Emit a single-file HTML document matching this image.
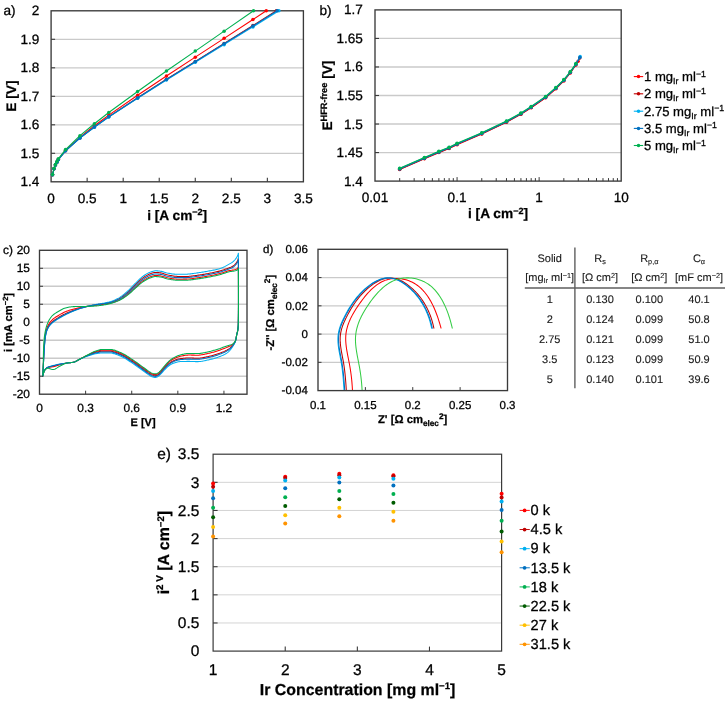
<!DOCTYPE html>
<html lang="en">
<head>
<meta charset="utf-8">
<title>Figure: polarisation curves, HFR-free, CV, Nyquist, table and i at 2 V vs Ir concentration</title>
<style>
html,body{margin:0;padding:0;background:#fff;}
body{width:725px;height:705px;overflow:hidden;font-family:"Liberation Sans",sans-serif;}
svg{display:block;}
</style>
</head>
<body>
<svg width="725" height="705" viewBox="0 0 725 705" font-family='"Liberation Sans", sans-serif' text-rendering="geometricPrecision">
<rect width="725" height="705" fill="#fff"/>
<line x1="51.1" y1="153.3" x2="303.4" y2="153.3" stroke="#cacaca" stroke-width="1.35"/>
<line x1="51.1" y1="124.8" x2="303.4" y2="124.8" stroke="#cacaca" stroke-width="1.35"/>
<line x1="51.1" y1="96.3" x2="303.4" y2="96.3" stroke="#cacaca" stroke-width="1.35"/>
<line x1="51.1" y1="67.8" x2="303.4" y2="67.8" stroke="#cacaca" stroke-width="1.35"/>
<line x1="51.1" y1="39.3" x2="303.4" y2="39.3" stroke="#cacaca" stroke-width="1.35"/>
<rect x="51.1" y="10.8" width="252.3" height="171" fill="none" stroke="#3a3a3a" stroke-width="1.35"/>
<line x1="51.1" y1="153.3" x2="55.1" y2="153.3" stroke="#3a3a3a" stroke-width="1.1"/>
<line x1="51.1" y1="124.8" x2="55.1" y2="124.8" stroke="#3a3a3a" stroke-width="1.1"/>
<line x1="51.1" y1="96.3" x2="55.1" y2="96.3" stroke="#3a3a3a" stroke-width="1.1"/>
<line x1="51.1" y1="67.8" x2="55.1" y2="67.8" stroke="#3a3a3a" stroke-width="1.1"/>
<line x1="51.1" y1="39.3" x2="55.1" y2="39.3" stroke="#3a3a3a" stroke-width="1.1"/>
<line x1="87.14" y1="181.8" x2="87.14" y2="177.8" stroke="#3a3a3a" stroke-width="1.1"/>
<line x1="123.19" y1="181.8" x2="123.19" y2="177.8" stroke="#3a3a3a" stroke-width="1.1"/>
<line x1="159.23" y1="181.8" x2="159.23" y2="177.8" stroke="#3a3a3a" stroke-width="1.1"/>
<line x1="195.27" y1="181.8" x2="195.27" y2="177.8" stroke="#3a3a3a" stroke-width="1.1"/>
<line x1="231.31" y1="181.8" x2="231.31" y2="177.8" stroke="#3a3a3a" stroke-width="1.1"/>
<line x1="267.36" y1="181.8" x2="267.36" y2="177.8" stroke="#3a3a3a" stroke-width="1.1"/>
<path d="M52.54 174.85 L53.98 168.77 L55.43 164.93 L56.87 162.13 L58.31 159.48 L65.52 150.44 L79.93 137.16 L94.35 125.78 L108.77 115.08 L137.6 95.26 L166.44 75.96 L195.27 57.16 L224.11 38.37 L252.94 19.55 L266.28 10.8" fill="none" stroke="#FF0000" stroke-width="1.1" stroke-linejoin="round" stroke-linecap="round"/>
<circle cx="52.54" cy="174.85" r="1.75" fill="#FF0000"/>
<circle cx="53.98" cy="168.77" r="1.75" fill="#FF0000"/>
<circle cx="55.43" cy="164.93" r="1.75" fill="#FF0000"/>
<circle cx="56.87" cy="162.13" r="1.75" fill="#FF0000"/>
<circle cx="58.31" cy="159.48" r="1.75" fill="#FF0000"/>
<circle cx="65.52" cy="150.44" r="1.75" fill="#FF0000"/>
<circle cx="79.93" cy="137.16" r="1.75" fill="#FF0000"/>
<circle cx="94.35" cy="125.78" r="1.75" fill="#FF0000"/>
<circle cx="108.77" cy="115.08" r="1.75" fill="#FF0000"/>
<circle cx="137.6" cy="95.26" r="1.75" fill="#FF0000"/>
<circle cx="166.44" cy="75.96" r="1.75" fill="#FF0000"/>
<circle cx="195.27" cy="57.16" r="1.75" fill="#FF0000"/>
<circle cx="224.11" cy="38.37" r="1.75" fill="#FF0000"/>
<circle cx="252.94" cy="19.55" r="1.75" fill="#FF0000"/>
<circle cx="266.28" cy="10.8" r="1.75" fill="#FF0000"/>
<path d="M52.54 174.8 L53.98 168.77 L55.43 164.97 L56.87 162.22 L58.31 159.61 L65.52 150.79 L79.93 137.93 L94.35 126.99 L108.77 116.72 L137.6 97.76 L166.44 79.32 L195.27 61.38 L224.11 43.45 L252.94 25.49 L276.37 10.8" fill="none" stroke="#C00000" stroke-width="1.1" stroke-linejoin="round" stroke-linecap="round"/>
<circle cx="52.54" cy="174.8" r="1.75" fill="#C00000"/>
<circle cx="53.98" cy="168.77" r="1.75" fill="#C00000"/>
<circle cx="55.43" cy="164.97" r="1.75" fill="#C00000"/>
<circle cx="56.87" cy="162.22" r="1.75" fill="#C00000"/>
<circle cx="58.31" cy="159.61" r="1.75" fill="#C00000"/>
<circle cx="65.52" cy="150.79" r="1.75" fill="#C00000"/>
<circle cx="79.93" cy="137.93" r="1.75" fill="#C00000"/>
<circle cx="94.35" cy="126.99" r="1.75" fill="#C00000"/>
<circle cx="108.77" cy="116.72" r="1.75" fill="#C00000"/>
<circle cx="137.6" cy="97.76" r="1.75" fill="#C00000"/>
<circle cx="166.44" cy="79.32" r="1.75" fill="#C00000"/>
<circle cx="195.27" cy="61.38" r="1.75" fill="#C00000"/>
<circle cx="224.11" cy="43.45" r="1.75" fill="#C00000"/>
<circle cx="252.94" cy="25.49" r="1.75" fill="#C00000"/>
<circle cx="276.37" cy="10.8" r="1.75" fill="#C00000"/>
<path d="M52.54 174.73 L53.98 168.71 L55.43 164.92 L56.87 162.18 L58.31 159.58 L65.52 150.81 L79.93 138.06 L94.35 127.22 L108.77 117.06 L137.6 98.31 L166.44 80.08 L195.27 62.36 L224.11 44.64 L252.94 26.89 L278.89 10.8" fill="none" stroke="#00B0F0" stroke-width="1.1" stroke-linejoin="round" stroke-linecap="round"/>
<circle cx="52.54" cy="174.73" r="1.75" fill="#00B0F0"/>
<circle cx="53.98" cy="168.71" r="1.75" fill="#00B0F0"/>
<circle cx="55.43" cy="164.92" r="1.75" fill="#00B0F0"/>
<circle cx="56.87" cy="162.18" r="1.75" fill="#00B0F0"/>
<circle cx="58.31" cy="159.58" r="1.75" fill="#00B0F0"/>
<circle cx="65.52" cy="150.81" r="1.75" fill="#00B0F0"/>
<circle cx="79.93" cy="138.06" r="1.75" fill="#00B0F0"/>
<circle cx="94.35" cy="127.22" r="1.75" fill="#00B0F0"/>
<circle cx="108.77" cy="117.06" r="1.75" fill="#00B0F0"/>
<circle cx="137.6" cy="98.31" r="1.75" fill="#00B0F0"/>
<circle cx="166.44" cy="80.08" r="1.75" fill="#00B0F0"/>
<circle cx="195.27" cy="62.36" r="1.75" fill="#00B0F0"/>
<circle cx="224.11" cy="44.64" r="1.75" fill="#00B0F0"/>
<circle cx="252.94" cy="26.89" r="1.75" fill="#00B0F0"/>
<circle cx="278.89" cy="10.8" r="1.75" fill="#00B0F0"/>
<path d="M52.54 174.81 L53.98 168.78 L55.43 164.98 L56.87 162.23 L58.31 159.63 L65.52 150.82 L79.93 138 L94.35 127.08 L108.77 116.85 L137.6 97.95 L166.44 79.57 L195.27 61.7 L224.11 43.83 L252.94 25.94 L277.16 10.8" fill="none" stroke="#0070C0" stroke-width="1.1" stroke-linejoin="round" stroke-linecap="round"/>
<circle cx="52.54" cy="174.81" r="1.75" fill="#0070C0"/>
<circle cx="53.98" cy="168.78" r="1.75" fill="#0070C0"/>
<circle cx="55.43" cy="164.98" r="1.75" fill="#0070C0"/>
<circle cx="56.87" cy="162.23" r="1.75" fill="#0070C0"/>
<circle cx="58.31" cy="159.63" r="1.75" fill="#0070C0"/>
<circle cx="65.52" cy="150.82" r="1.75" fill="#0070C0"/>
<circle cx="79.93" cy="138" r="1.75" fill="#0070C0"/>
<circle cx="94.35" cy="127.08" r="1.75" fill="#0070C0"/>
<circle cx="108.77" cy="116.85" r="1.75" fill="#0070C0"/>
<circle cx="137.6" cy="97.95" r="1.75" fill="#0070C0"/>
<circle cx="166.44" cy="79.57" r="1.75" fill="#0070C0"/>
<circle cx="195.27" cy="61.7" r="1.75" fill="#0070C0"/>
<circle cx="224.11" cy="43.83" r="1.75" fill="#0070C0"/>
<circle cx="252.94" cy="25.94" r="1.75" fill="#0070C0"/>
<circle cx="277.16" cy="10.8" r="1.75" fill="#0070C0"/>
<path d="M52.54 174.45 L53.98 168.32 L55.43 164.41 L56.87 161.56 L58.31 158.85 L65.52 149.53 L79.93 135.67 L94.35 123.72 L108.77 112.46 L137.6 91.49 L166.44 71.04 L195.27 51.1 L224.11 31.17 L253.52 10.8" fill="none" stroke="#00B050" stroke-width="1.1" stroke-linejoin="round" stroke-linecap="round"/>
<circle cx="52.54" cy="174.45" r="1.75" fill="#00B050"/>
<circle cx="53.98" cy="168.32" r="1.75" fill="#00B050"/>
<circle cx="55.43" cy="164.41" r="1.75" fill="#00B050"/>
<circle cx="56.87" cy="161.56" r="1.75" fill="#00B050"/>
<circle cx="58.31" cy="158.85" r="1.75" fill="#00B050"/>
<circle cx="65.52" cy="149.53" r="1.75" fill="#00B050"/>
<circle cx="79.93" cy="135.67" r="1.75" fill="#00B050"/>
<circle cx="94.35" cy="123.72" r="1.75" fill="#00B050"/>
<circle cx="108.77" cy="112.46" r="1.75" fill="#00B050"/>
<circle cx="137.6" cy="91.49" r="1.75" fill="#00B050"/>
<circle cx="166.44" cy="71.04" r="1.75" fill="#00B050"/>
<circle cx="195.27" cy="51.1" r="1.75" fill="#00B050"/>
<circle cx="224.11" cy="31.17" r="1.75" fill="#00B050"/>
<circle cx="253.52" cy="10.8" r="1.75" fill="#00B050"/>
<text x="39.4" y="186.3" font-size="13.6" text-anchor="end" fill="#000" stroke="#000" stroke-width="0.28">1.4</text>
<text x="39.4" y="157.8" font-size="13.6" text-anchor="end" fill="#000" stroke="#000" stroke-width="0.28">1.5</text>
<text x="39.4" y="129.3" font-size="13.6" text-anchor="end" fill="#000" stroke="#000" stroke-width="0.28">1.6</text>
<text x="39.4" y="100.8" font-size="13.6" text-anchor="end" fill="#000" stroke="#000" stroke-width="0.28">1.7</text>
<text x="39.4" y="72.3" font-size="13.6" text-anchor="end" fill="#000" stroke="#000" stroke-width="0.28">1.8</text>
<text x="39.4" y="43.8" font-size="13.6" text-anchor="end" fill="#000" stroke="#000" stroke-width="0.28">1.9</text>
<text x="39.4" y="15.3" font-size="13.6" text-anchor="end" fill="#000" stroke="#000" stroke-width="0.28">2</text>
<text x="51.1" y="202.9" font-size="13.6" text-anchor="middle" fill="#000" stroke="#000" stroke-width="0.28">0</text>
<text x="87.14" y="202.9" font-size="13.6" text-anchor="middle" fill="#000" stroke="#000" stroke-width="0.28">0.5</text>
<text x="123.19" y="202.9" font-size="13.6" text-anchor="middle" fill="#000" stroke="#000" stroke-width="0.28">1</text>
<text x="159.23" y="202.9" font-size="13.6" text-anchor="middle" fill="#000" stroke="#000" stroke-width="0.28">1.5</text>
<text x="195.27" y="202.9" font-size="13.6" text-anchor="middle" fill="#000" stroke="#000" stroke-width="0.28">2</text>
<text x="231.31" y="202.9" font-size="13.6" text-anchor="middle" fill="#000" stroke="#000" stroke-width="0.28">2.5</text>
<text x="267.36" y="202.9" font-size="13.6" text-anchor="middle" fill="#000" stroke="#000" stroke-width="0.28">3</text>
<text x="303.4" y="202.9" font-size="13.6" text-anchor="middle" fill="#000" stroke="#000" stroke-width="0.28">3.5</text>
<text x="3.4" y="15.2" font-size="13.6" text-anchor="start" fill="#000" stroke="#000" stroke-width="0.28">a)</text>
<text x="177.2" y="219.7" font-size="13.7" text-anchor="middle" fill="#000" font-weight="bold" stroke="#000" stroke-width="0.25">i [A cm<tspan font-size="9" dy="-4.7">&#8722;2</tspan><tspan dy="4.7">]</tspan></text>
<text x="16.1" y="96.1" font-size="13.7" text-anchor="middle" fill="#000" transform="rotate(-90 16.1 96.1)" font-weight="bold" stroke="#000" stroke-width="0.25">E [V]</text>
<line x1="375" y1="152.57" x2="621.2" y2="152.57" stroke="#cacaca" stroke-width="1.35"/>
<line x1="375" y1="124.03" x2="621.2" y2="124.03" stroke="#cacaca" stroke-width="1.35"/>
<line x1="375" y1="95.5" x2="621.2" y2="95.5" stroke="#cacaca" stroke-width="1.35"/>
<line x1="375" y1="66.97" x2="621.2" y2="66.97" stroke="#cacaca" stroke-width="1.35"/>
<line x1="375" y1="38.43" x2="621.2" y2="38.43" stroke="#cacaca" stroke-width="1.35"/>
<rect x="375" y="9.9" width="246.2" height="171.2" fill="none" stroke="#3a3a3a" stroke-width="1.35"/>
<line x1="375" y1="152.57" x2="379" y2="152.57" stroke="#3a3a3a" stroke-width="1.1"/>
<line x1="375" y1="124.03" x2="379" y2="124.03" stroke="#3a3a3a" stroke-width="1.1"/>
<line x1="375" y1="95.5" x2="379" y2="95.5" stroke="#3a3a3a" stroke-width="1.1"/>
<line x1="375" y1="66.97" x2="379" y2="66.97" stroke="#3a3a3a" stroke-width="1.1"/>
<line x1="375" y1="38.43" x2="379" y2="38.43" stroke="#3a3a3a" stroke-width="1.1"/>
<line x1="399.7" y1="181.1" x2="399.7" y2="178.1" stroke="#3a3a3a" stroke-width="1"/>
<line x1="414.16" y1="181.1" x2="414.16" y2="178.1" stroke="#3a3a3a" stroke-width="1"/>
<line x1="424.41" y1="181.1" x2="424.41" y2="178.1" stroke="#3a3a3a" stroke-width="1"/>
<line x1="432.36" y1="181.1" x2="432.36" y2="178.1" stroke="#3a3a3a" stroke-width="1"/>
<line x1="438.86" y1="181.1" x2="438.86" y2="178.1" stroke="#3a3a3a" stroke-width="1"/>
<line x1="444.35" y1="181.1" x2="444.35" y2="178.1" stroke="#3a3a3a" stroke-width="1"/>
<line x1="449.11" y1="181.1" x2="449.11" y2="178.1" stroke="#3a3a3a" stroke-width="1"/>
<line x1="453.31" y1="181.1" x2="453.31" y2="178.1" stroke="#3a3a3a" stroke-width="1"/>
<line x1="457.07" y1="181.1" x2="457.07" y2="177.1" stroke="#3a3a3a" stroke-width="1"/>
<line x1="481.77" y1="181.1" x2="481.77" y2="178.1" stroke="#3a3a3a" stroke-width="1"/>
<line x1="496.22" y1="181.1" x2="496.22" y2="178.1" stroke="#3a3a3a" stroke-width="1"/>
<line x1="506.48" y1="181.1" x2="506.48" y2="178.1" stroke="#3a3a3a" stroke-width="1"/>
<line x1="514.43" y1="181.1" x2="514.43" y2="178.1" stroke="#3a3a3a" stroke-width="1"/>
<line x1="520.93" y1="181.1" x2="520.93" y2="178.1" stroke="#3a3a3a" stroke-width="1"/>
<line x1="526.42" y1="181.1" x2="526.42" y2="178.1" stroke="#3a3a3a" stroke-width="1"/>
<line x1="531.18" y1="181.1" x2="531.18" y2="178.1" stroke="#3a3a3a" stroke-width="1"/>
<line x1="535.38" y1="181.1" x2="535.38" y2="178.1" stroke="#3a3a3a" stroke-width="1"/>
<line x1="539.13" y1="181.1" x2="539.13" y2="177.1" stroke="#3a3a3a" stroke-width="1"/>
<line x1="563.84" y1="181.1" x2="563.84" y2="178.1" stroke="#3a3a3a" stroke-width="1"/>
<line x1="578.29" y1="181.1" x2="578.29" y2="178.1" stroke="#3a3a3a" stroke-width="1"/>
<line x1="588.54" y1="181.1" x2="588.54" y2="178.1" stroke="#3a3a3a" stroke-width="1"/>
<line x1="596.5" y1="181.1" x2="596.5" y2="178.1" stroke="#3a3a3a" stroke-width="1"/>
<line x1="602.99" y1="181.1" x2="602.99" y2="178.1" stroke="#3a3a3a" stroke-width="1"/>
<line x1="608.49" y1="181.1" x2="608.49" y2="178.1" stroke="#3a3a3a" stroke-width="1"/>
<line x1="613.25" y1="181.1" x2="613.25" y2="178.1" stroke="#3a3a3a" stroke-width="1"/>
<line x1="617.44" y1="181.1" x2="617.44" y2="178.1" stroke="#3a3a3a" stroke-width="1"/>
<path d="M399.7 169.52 L424.41 158.84 L438.86 152.62 L449.11 148.51 L457.07 144.69 L481.77 134.02 L506.48 122.26 L520.93 114.33 L531.18 107.77 L545.63 97.78 L555.88 88.82 L563.84 80.89 L570.34 72.96 L575.83 64.97 L578.11 61.19" fill="none" stroke="#FF0000" stroke-width="1.1" stroke-linejoin="round" stroke-linecap="round"/>
<circle cx="399.7" cy="169.52" r="1.75" fill="#FF0000"/>
<circle cx="424.41" cy="158.84" r="1.75" fill="#FF0000"/>
<circle cx="438.86" cy="152.62" r="1.75" fill="#FF0000"/>
<circle cx="449.11" cy="148.51" r="1.75" fill="#FF0000"/>
<circle cx="457.07" cy="144.69" r="1.75" fill="#FF0000"/>
<circle cx="481.77" cy="134.02" r="1.75" fill="#FF0000"/>
<circle cx="506.48" cy="122.26" r="1.75" fill="#FF0000"/>
<circle cx="520.93" cy="114.33" r="1.75" fill="#FF0000"/>
<circle cx="531.18" cy="107.77" r="1.75" fill="#FF0000"/>
<circle cx="545.63" cy="97.78" r="1.75" fill="#FF0000"/>
<circle cx="555.88" cy="88.82" r="1.75" fill="#FF0000"/>
<circle cx="563.84" cy="80.89" r="1.75" fill="#FF0000"/>
<circle cx="570.34" cy="72.96" r="1.75" fill="#FF0000"/>
<circle cx="575.83" cy="64.97" r="1.75" fill="#FF0000"/>
<circle cx="578.11" cy="61.19" r="1.75" fill="#FF0000"/>
<path d="M399.7 169.17 L424.41 158.5 L438.86 152.28 L449.11 148.17 L457.07 144.35 L481.77 133.68 L506.48 121.92 L520.93 113.99 L531.18 107.43 L545.63 97.44 L555.88 88.48 L563.84 80.55 L570.34 72.62 L575.83 64.63 L579.74 57.94" fill="none" stroke="#C00000" stroke-width="1.1" stroke-linejoin="round" stroke-linecap="round"/>
<circle cx="399.7" cy="169.17" r="1.75" fill="#C00000"/>
<circle cx="424.41" cy="158.5" r="1.75" fill="#C00000"/>
<circle cx="438.86" cy="152.28" r="1.75" fill="#C00000"/>
<circle cx="449.11" cy="148.17" r="1.75" fill="#C00000"/>
<circle cx="457.07" cy="144.35" r="1.75" fill="#C00000"/>
<circle cx="481.77" cy="133.68" r="1.75" fill="#C00000"/>
<circle cx="506.48" cy="121.92" r="1.75" fill="#C00000"/>
<circle cx="520.93" cy="113.99" r="1.75" fill="#C00000"/>
<circle cx="531.18" cy="107.43" r="1.75" fill="#C00000"/>
<circle cx="545.63" cy="97.44" r="1.75" fill="#C00000"/>
<circle cx="555.88" cy="88.48" r="1.75" fill="#C00000"/>
<circle cx="563.84" cy="80.55" r="1.75" fill="#C00000"/>
<circle cx="570.34" cy="72.62" r="1.75" fill="#C00000"/>
<circle cx="575.83" cy="64.63" r="1.75" fill="#C00000"/>
<circle cx="579.74" cy="57.94" r="1.75" fill="#C00000"/>
<path d="M399.7 168.55 L424.41 157.87 L438.86 151.65 L449.11 147.54 L457.07 143.72 L481.77 133.05 L506.48 121.29 L520.93 113.36 L531.18 106.8 L545.63 96.81 L555.88 87.85 L563.84 79.92 L570.34 71.99 L575.83 64 L580.14 56.58" fill="none" stroke="#00B0F0" stroke-width="1.1" stroke-linejoin="round" stroke-linecap="round"/>
<circle cx="399.7" cy="168.55" r="1.75" fill="#00B0F0"/>
<circle cx="424.41" cy="157.87" r="1.75" fill="#00B0F0"/>
<circle cx="438.86" cy="151.65" r="1.75" fill="#00B0F0"/>
<circle cx="449.11" cy="147.54" r="1.75" fill="#00B0F0"/>
<circle cx="457.07" cy="143.72" r="1.75" fill="#00B0F0"/>
<circle cx="481.77" cy="133.05" r="1.75" fill="#00B0F0"/>
<circle cx="506.48" cy="121.29" r="1.75" fill="#00B0F0"/>
<circle cx="520.93" cy="113.36" r="1.75" fill="#00B0F0"/>
<circle cx="531.18" cy="106.8" r="1.75" fill="#00B0F0"/>
<circle cx="545.63" cy="96.81" r="1.75" fill="#00B0F0"/>
<circle cx="555.88" cy="87.85" r="1.75" fill="#00B0F0"/>
<circle cx="563.84" cy="79.92" r="1.75" fill="#00B0F0"/>
<circle cx="570.34" cy="71.99" r="1.75" fill="#00B0F0"/>
<circle cx="575.83" cy="64" r="1.75" fill="#00B0F0"/>
<circle cx="580.14" cy="56.58" r="1.75" fill="#00B0F0"/>
<path d="M399.7 168.89 L424.41 158.22 L438.86 152 L449.11 147.89 L457.07 144.06 L481.77 133.39 L506.48 121.64 L520.93 113.7 L531.18 107.14 L545.63 97.15 L555.88 88.2 L563.84 80.26 L570.34 72.33 L575.83 64.34 L579.87 57.43" fill="none" stroke="#0070C0" stroke-width="1.1" stroke-linejoin="round" stroke-linecap="round"/>
<circle cx="399.7" cy="168.89" r="1.75" fill="#0070C0"/>
<circle cx="424.41" cy="158.22" r="1.75" fill="#0070C0"/>
<circle cx="438.86" cy="152" r="1.75" fill="#0070C0"/>
<circle cx="449.11" cy="147.89" r="1.75" fill="#0070C0"/>
<circle cx="457.07" cy="144.06" r="1.75" fill="#0070C0"/>
<circle cx="481.77" cy="133.39" r="1.75" fill="#0070C0"/>
<circle cx="506.48" cy="121.64" r="1.75" fill="#0070C0"/>
<circle cx="520.93" cy="113.7" r="1.75" fill="#0070C0"/>
<circle cx="531.18" cy="107.14" r="1.75" fill="#0070C0"/>
<circle cx="545.63" cy="97.15" r="1.75" fill="#0070C0"/>
<circle cx="555.88" cy="88.2" r="1.75" fill="#0070C0"/>
<circle cx="563.84" cy="80.26" r="1.75" fill="#0070C0"/>
<circle cx="570.34" cy="72.33" r="1.75" fill="#0070C0"/>
<circle cx="575.83" cy="64.34" r="1.75" fill="#0070C0"/>
<circle cx="579.87" cy="57.43" r="1.75" fill="#0070C0"/>
<path d="M399.7 168.15 L424.41 157.47 L438.86 151.25 L449.11 147.15 L457.07 143.32 L481.77 132.65 L506.48 120.89 L520.93 112.96 L531.18 106.4 L545.63 96.41 L555.88 87.45 L563.84 79.52 L570.34 71.59 L575.93 63.44" fill="none" stroke="#00B050" stroke-width="1.1" stroke-linejoin="round" stroke-linecap="round"/>
<circle cx="399.7" cy="168.15" r="1.75" fill="#00B050"/>
<circle cx="424.41" cy="157.47" r="1.75" fill="#00B050"/>
<circle cx="438.86" cy="151.25" r="1.75" fill="#00B050"/>
<circle cx="449.11" cy="147.15" r="1.75" fill="#00B050"/>
<circle cx="457.07" cy="143.32" r="1.75" fill="#00B050"/>
<circle cx="481.77" cy="132.65" r="1.75" fill="#00B050"/>
<circle cx="506.48" cy="120.89" r="1.75" fill="#00B050"/>
<circle cx="520.93" cy="112.96" r="1.75" fill="#00B050"/>
<circle cx="531.18" cy="106.4" r="1.75" fill="#00B050"/>
<circle cx="545.63" cy="96.41" r="1.75" fill="#00B050"/>
<circle cx="555.88" cy="87.45" r="1.75" fill="#00B050"/>
<circle cx="563.84" cy="79.52" r="1.75" fill="#00B050"/>
<circle cx="570.34" cy="71.59" r="1.75" fill="#00B050"/>
<circle cx="575.93" cy="63.44" r="1.75" fill="#00B050"/>
<text x="362.9" y="185.6" font-size="13.6" text-anchor="end" fill="#000" stroke="#000" stroke-width="0.28">1.4</text>
<text x="362.9" y="157.07" font-size="13.6" text-anchor="end" fill="#000" stroke="#000" stroke-width="0.28">1.45</text>
<text x="362.9" y="128.53" font-size="13.6" text-anchor="end" fill="#000" stroke="#000" stroke-width="0.28">1.5</text>
<text x="362.9" y="100" font-size="13.6" text-anchor="end" fill="#000" stroke="#000" stroke-width="0.28">1.55</text>
<text x="362.9" y="71.47" font-size="13.6" text-anchor="end" fill="#000" stroke="#000" stroke-width="0.28">1.6</text>
<text x="362.9" y="42.93" font-size="13.6" text-anchor="end" fill="#000" stroke="#000" stroke-width="0.28">1.65</text>
<text x="362.9" y="14.4" font-size="13.6" text-anchor="end" fill="#000" stroke="#000" stroke-width="0.28">1.7</text>
<text x="375" y="202.3" font-size="13.6" text-anchor="middle" fill="#000" stroke="#000" stroke-width="0.28">0.01</text>
<text x="457.07" y="202.3" font-size="13.6" text-anchor="middle" fill="#000" stroke="#000" stroke-width="0.28">0.1</text>
<text x="539.13" y="202.3" font-size="13.6" text-anchor="middle" fill="#000" stroke="#000" stroke-width="0.28">1</text>
<text x="621.2" y="202.3" font-size="13.6" text-anchor="middle" fill="#000" stroke="#000" stroke-width="0.28">10</text>
<text x="319.4" y="15.2" font-size="13.6" text-anchor="start" fill="#000" stroke="#000" stroke-width="0.28">b)</text>
<text x="498" y="218.2" font-size="13.7" text-anchor="middle" fill="#000" font-weight="bold" stroke="#000" stroke-width="0.25">i [A cm<tspan font-size="9" dy="-4.7">&#8722;2</tspan><tspan dy="4.7">]</tspan></text>
<text x="331.9" y="95.6" font-size="13.7" text-anchor="middle" fill="#000" transform="rotate(-90 331.9 95.6)" font-weight="bold" stroke="#000" stroke-width="0.25">E<tspan font-size="9.2" dy="-4.7">HFR-free</tspan><tspan dy="4.7"> [V]</tspan></text>
<line x1="633.8" y1="76.6" x2="643.2" y2="76.6" stroke="#FF0000" stroke-width="1.1"/>
<circle cx="638.5" cy="76.6" r="1.75" fill="#FF0000"/>
<text x="644" y="81.2" font-size="13.1" text-anchor="start" fill="#000" stroke="#000" stroke-width="0.28">1 mg<tspan font-size="8.8" dy="2.8">Ir</tspan><tspan dy="-2.8"> ml</tspan><tspan font-size="8.8" dy="-4.6">&#8722;1</tspan></text>
<line x1="633.8" y1="93.8" x2="643.2" y2="93.8" stroke="#C00000" stroke-width="1.1"/>
<circle cx="638.5" cy="93.8" r="1.75" fill="#C00000"/>
<text x="644" y="98.4" font-size="13.1" text-anchor="start" fill="#000" stroke="#000" stroke-width="0.28">2 mg<tspan font-size="8.8" dy="2.8">Ir</tspan><tspan dy="-2.8"> ml</tspan><tspan font-size="8.8" dy="-4.6">&#8722;1</tspan></text>
<line x1="633.8" y1="111.2" x2="643.2" y2="111.2" stroke="#00B0F0" stroke-width="1.1"/>
<circle cx="638.5" cy="111.2" r="1.75" fill="#00B0F0"/>
<text x="644" y="115.8" font-size="13.1" text-anchor="start" fill="#000" stroke="#000" stroke-width="0.28">2.75 mg<tspan font-size="8.8" dy="2.8">Ir</tspan><tspan dy="-2.8"> ml</tspan><tspan font-size="8.8" dy="-4.6">&#8722;1</tspan></text>
<line x1="633.8" y1="128.4" x2="643.2" y2="128.4" stroke="#0070C0" stroke-width="1.1"/>
<circle cx="638.5" cy="128.4" r="1.75" fill="#0070C0"/>
<text x="644" y="133" font-size="13.1" text-anchor="start" fill="#000" stroke="#000" stroke-width="0.28">3.5 mg<tspan font-size="8.8" dy="2.8">Ir</tspan><tspan dy="-2.8"> ml</tspan><tspan font-size="8.8" dy="-4.6">&#8722;1</tspan></text>
<line x1="633.8" y1="145.5" x2="643.2" y2="145.5" stroke="#00B050" stroke-width="1.1"/>
<circle cx="638.5" cy="145.5" r="1.75" fill="#00B050"/>
<text x="644" y="150.1" font-size="13.1" text-anchor="start" fill="#000" stroke="#000" stroke-width="0.28">5 mg<tspan font-size="8.8" dy="2.8">Ir</tspan><tspan dy="-2.8"> ml</tspan><tspan font-size="8.8" dy="-4.6">&#8722;1</tspan></text>
<line x1="39.5" y1="376.21" x2="247" y2="376.21" stroke="#cacaca" stroke-width="1.35"/>
<line x1="39.5" y1="358.23" x2="247" y2="358.23" stroke="#cacaca" stroke-width="1.35"/>
<line x1="39.5" y1="340.24" x2="247" y2="340.24" stroke="#cacaca" stroke-width="1.35"/>
<line x1="39.5" y1="322.25" x2="247" y2="322.25" stroke="#cacaca" stroke-width="1.35"/>
<line x1="39.5" y1="304.26" x2="247" y2="304.26" stroke="#cacaca" stroke-width="1.35"/>
<line x1="39.5" y1="286.27" x2="247" y2="286.27" stroke="#cacaca" stroke-width="1.35"/>
<line x1="39.5" y1="268.29" x2="247" y2="268.29" stroke="#cacaca" stroke-width="1.35"/>
<clipPath id="clipC"><rect x="39.5" y="250.3" width="207.5" height="143.9"/></clipPath>
<g clip-path="url(#clipC)">
<path d="M42.8 376.21 L42.86 375.22 L42.9 374.22 L42.95 373.22 L43 372.22 L43.05 371.23 L43.09 370.23 L43.14 369.23 L43.18 368.23 L43.23 367.24 L43.27 366.24 L43.31 365.24 L43.34 364.24 L43.38 363.25 L43.42 362.25 L43.46 361.25 L43.49 360.25 L43.53 359.25 L43.57 358.26 L43.61 357.26 L43.65 356.26 L43.69 355.26 L43.73 354.27 L43.77 353.27 L43.82 352.27 L43.86 351.27 L43.91 350.28 L43.96 349.28 L44.02 348.28 L44.07 347.28 L44.13 346.29 L44.19 345.29 L44.25 344.29 L44.32 343.3 L44.4 342.3 L44.48 341.31 L44.57 340.31 L44.66 339.32 L44.78 338.33 L44.9 337.33 L45.04 336.34 L45.19 335.34 L45.36 334.36 L45.55 333.38 L45.74 332.4 L45.96 331.44 L46.21 330.47 L46.49 329.51 L46.82 328.55 L47.17 327.6 L47.56 326.66 L47.97 325.75 L48.4 324.87 L48.86 324.02 L49.39 323.17 L49.98 322.35 L50.61 321.54 L51.28 320.77 L51.97 320.05 L52.67 319.37 L53.41 318.73 L54.2 318.13 L55.02 317.56 L55.87 317.01 L56.74 316.47 L57.6 315.95 L58.45 315.43 L59.31 314.92 L60.17 314.41 L61.04 313.9 L61.92 313.42 L62.81 312.95 L63.7 312.51 L64.6 312.1 L65.51 311.72 L66.44 311.35 L67.37 311 L68.31 310.66 L69.26 310.33 L70.22 310.02 L71.18 309.73 L72.14 309.45 L73.1 309.19 L74.06 308.94 L75.03 308.71 L76.01 308.49 L76.98 308.28 L77.96 308.07 L78.94 307.88 L79.93 307.69 L80.91 307.51 L81.89 307.32 L82.87 307.15 L83.86 306.97 L84.84 306.8 L85.82 306.64 L86.81 306.48 L87.8 306.32 L88.78 306.17 L89.77 306.02 L90.76 305.88 L91.75 305.75 L92.74 305.62 L93.73 305.49 L94.72 305.37 L95.71 305.25 L96.7 305.13 L97.7 305.02 L98.69 304.92 L99.68 304.8 L100.67 304.68 L101.66 304.55 L102.65 304.41 L103.64 304.27 L104.64 304.13 L105.63 303.97 L106.61 303.81 L107.6 303.63 L108.57 303.44 L109.54 303.24 L110.51 303.02 L111.48 302.77 L112.45 302.5 L113.41 302.2 L114.37 301.89 L115.32 301.55 L116.26 301.2 L117.18 300.83 L118.09 300.45 L118.98 300.04 L119.87 299.6 L120.74 299.13 L121.6 298.62 L122.45 298.08 L123.29 297.52 L124.12 296.95 L124.94 296.36 L125.76 295.76 L126.56 295.16 L127.35 294.57 L128.13 293.96 L128.89 293.32 L129.65 292.67 L130.39 292.01 L131.13 291.33 L131.86 290.65 L132.58 289.96 L133.31 289.26 L134.03 288.57 L134.76 287.88 L135.49 287.2 L136.23 286.52 L136.97 285.85 L137.7 285.16 L138.43 284.48 L139.17 283.8 L139.92 283.14 L140.68 282.51 L141.47 281.9 L142.27 281.3 L143.09 280.72 L143.92 280.15 L144.76 279.61 L145.61 279.09 L146.47 278.6 L147.35 278.13 L148.25 277.68 L149.16 277.25 L150.08 276.87 L151.02 276.53 L151.97 276.21 L152.93 275.89 L153.91 275.64 L154.89 275.49 L155.87 275.49 L156.87 275.54 L157.87 275.62 L158.87 275.72 L159.86 275.83 L160.84 275.98 L161.81 276.19 L162.78 276.44 L163.74 276.73 L164.7 277.03 L165.66 277.33 L166.63 277.61 L167.59 277.85 L168.57 278.05 L169.55 278.22 L170.54 278.39 L171.52 278.56 L172.51 278.72 L173.51 278.86 L174.5 278.99 L175.5 279.08 L176.49 279.14 L177.49 279.16 L178.48 279.16 L179.48 279.15 L180.48 279.15 L181.48 279.15 L182.48 279.15 L183.48 279.14 L184.48 279.13 L185.48 279.13 L186.47 279.12 L187.47 279.09 L188.46 279.03 L189.46 278.95 L190.45 278.84 L191.44 278.72 L192.43 278.59 L193.42 278.44 L194.42 278.29 L195.41 278.15 L196.4 278 L197.38 277.87 L198.37 277.73 L199.36 277.59 L200.35 277.44 L201.34 277.29 L202.32 277.13 L203.31 276.97 L204.29 276.8 L205.28 276.63 L206.26 276.46 L207.24 276.28 L208.23 276.1 L209.21 275.92 L210.19 275.73 L211.17 275.54 L212.15 275.35 L213.13 275.15 L214.11 274.94 L215.08 274.73 L216.06 274.51 L217.03 274.28 L218 274.05 L218.97 273.81 L219.93 273.55 L220.89 273.27 L221.84 272.98 L222.8 272.68 L223.75 272.38 L224.7 272.07 L225.65 271.74 L226.59 271.4 L227.54 271.08 L228.49 270.8 L229.46 270.58 L230.44 270.41 L231.43 270.28 L232.42 270.12 L233.41 269.94 L234.4 269.74 L235.37 269.49 L236.29 269.16 L237.18 268.65 L237.87 267.99 L238.39 267.1 L238.39 267.1 L238.4 267.91 L238.4 268.73 L238.41 269.54 L238.41 270.36 L238.42 271.17 L238.42 271.99 L238.42 272.8 L238.43 273.62 L238.43 274.43 L238.43 275.24 L238.44 276.06 L238.44 276.87 L238.44 277.69 L238.44 278.5 L238.45 279.32 L238.45 280.13 L238.45 280.94 L238.45 281.76 L238.45 282.57 L238.46 283.39 L238.46 284.2 L238.46 285.02 L238.46 285.83 L238.46 286.64 L238.46 287.46 L238.46 288.27 L238.46 289.09 L238.47 289.9 L238.47 290.72 L238.47 291.53 L238.47 292.34 L238.47 293.16 L238.47 293.97 L238.47 294.79 L238.47 295.6 L238.47 296.42 L238.47 297.23 L238.47 298.04 L238.47 298.86 L238.47 299.67 L238.47 300.49 L238.47 301.3 L238.47 302.12 L238.47 302.93 L238.47 303.74 L238.47 304.56 L238.47 305.37 L238.47 306.19 L238.47 307 L238.47 307.82 L238.46 308.63 L238.46 309.45 L238.46 310.26 L238.45 311.08 L238.45 311.89 L238.44 312.71 L238.44 313.52 L238.43 314.34 L238.43 315.15 L238.42 315.97 L238.41 316.78 L238.4 317.59 L238.39 318.41 L238.38 319.22 L238.37 320.04 L238.36 320.85 L238.35 321.66 L238.34 322.48 L238.33 323.29 L238.31 324.1 L238.29 324.92 L238.24 325.73 L238.18 326.54 L238.11 327.36 L238.02 328.17 L237.93 328.98 L237.83 329.78 L237.71 330.59 L237.56 331.38 L237.36 332.17 L237.15 332.96 L236.94 333.75 L236.75 334.55 L236.58 335.35 L236.44 336.16 L236.31 336.98 L236.18 337.8 L236.03 338.61 L235.86 339.39 L235.65 340.14 L235.37 340.88 L235 341.63 L234.55 342.36 L234.05 343.05 L233.51 343.68 L232.96 344.24 L232.38 344.71 L231.73 345.14 L231.03 345.54 L230.28 345.91 L229.51 346.26 L228.73 346.59 L227.95 346.92 L227.2 347.24 L226.46 347.57 L225.71 347.88 L224.95 348.19 L224.2 348.49 L223.43 348.78 L222.67 349.07 L221.9 349.35 L221.13 349.62 L220.36 349.89 L219.59 350.15 L218.82 350.4 L218.05 350.66 L217.27 350.92 L216.5 351.17 L215.72 351.42 L214.94 351.67 L214.16 351.91 L213.38 352.14 L212.59 352.37 L211.81 352.58 L211.02 352.79 L210.23 352.99 L209.44 353.18 L208.65 353.35 L207.86 353.52 L207.06 353.7 L206.26 353.88 L205.47 354.06 L204.66 354.23 L203.86 354.4 L203.06 354.56 L202.25 354.71 L201.44 354.84 L200.64 354.96 L199.83 355.05 L199.02 355.12 L198.21 355.16 L197.4 355.17 L196.59 355.16 L195.78 355.16 L194.96 355.15 L194.15 355.14 L193.33 355.13 L192.51 355.12 L191.7 355.11 L190.88 355.1 L190.07 355.09 L189.25 355.09 L188.44 355.09 L187.63 355.11 L186.82 355.17 L186 355.25 L185.19 355.35 L184.38 355.47 L183.57 355.61 L182.77 355.76 L181.97 355.91 L181.17 356.07 L180.39 356.23 L179.6 356.44 L178.82 356.68 L178.04 356.95 L177.27 357.24 L176.51 357.55 L175.76 357.86 L175.03 358.19 L174.3 358.55 L173.57 358.93 L172.86 359.33 L172.15 359.76 L171.46 360.21 L170.79 360.67 L170.14 361.15 L169.51 361.64 L168.9 362.16 L168.3 362.72 L167.73 363.3 L167.16 363.89 L166.6 364.49 L166.05 365.1 L165.49 365.7 L164.94 366.3 L164.4 366.91 L163.86 367.53 L163.34 368.16 L162.82 368.79 L162.3 369.42 L161.77 370.05 L161.24 370.66 L160.69 371.26 L160.13 371.84 L159.54 372.4 L158.93 372.94 L158.28 373.43 L157.59 373.88 L156.87 374.26 L156.09 374.48 L155.28 374.59 L154.47 374.52 L153.67 374.38 L152.88 374.17 L152.11 373.9 L151.37 373.57 L150.65 373.18 L149.95 372.76 L149.25 372.34 L148.57 371.91 L147.9 371.45 L147.23 370.98 L146.57 370.5 L145.91 370.02 L145.26 369.53 L144.6 369.04 L143.95 368.55 L143.29 368.08 L142.63 367.6 L141.96 367.13 L141.3 366.65 L140.64 366.17 L139.99 365.69 L139.33 365.21 L138.67 364.72 L138.01 364.24 L137.35 363.76 L136.7 363.28 L136.03 362.81 L135.37 362.33 L134.71 361.87 L134.04 361.4 L133.37 360.94 L132.69 360.48 L132.02 360.04 L131.34 359.59 L130.65 359.14 L129.97 358.69 L129.29 358.23 L128.61 357.77 L127.92 357.32 L127.23 356.86 L126.54 356.42 L125.84 355.98 L125.14 355.56 L124.44 355.15 L123.73 354.76 L123.01 354.38 L122.29 354.03 L121.56 353.69 L120.82 353.39 L120.08 353.08 L119.32 352.76 L118.56 352.43 L117.8 352.11 L117.02 351.8 L116.24 351.5 L115.46 351.21 L114.67 350.95 L113.88 350.71 L113.09 350.51 L112.29 350.35 L111.49 350.23 L110.7 350.15 L109.9 350.13 L109.09 350.13 L108.28 350.13 L107.47 350.13 L106.65 350.13 L105.83 350.13 L105.01 350.14 L104.19 350.14 L103.38 350.14 L102.57 350.14 L101.76 350.17 L100.95 350.26 L100.14 350.39 L99.34 350.56 L98.54 350.76 L97.74 350.98 L96.96 351.2 L96.18 351.42 L95.41 351.64 L94.64 351.9 L93.89 352.19 L93.14 352.5 L92.39 352.83 L91.65 353.17 L90.91 353.53 L90.17 353.9 L89.44 354.27 L88.7 354.64 L87.97 355 L87.24 355.36 L86.5 355.71 L85.77 356.07 L85.05 356.44 L84.32 356.81 L83.6 357.19 L82.88 357.56 L82.16 357.94 L81.43 358.31 L80.71 358.68 L79.98 359.05 L79.25 359.44 L78.53 359.85 L77.81 360.26 L77.09 360.67 L76.36 361.07 L75.63 361.43 L74.89 361.75 L74.13 362.01 L73.37 362.2 L72.59 362.35 L71.79 362.47 L70.99 362.57 L70.17 362.66 L69.35 362.75 L68.53 362.84 L67.72 362.94 L66.91 363.06 L66.11 363.2 L65.31 363.35 L64.51 363.52 L63.72 363.7 L62.92 363.89 L62.13 364.08 L61.34 364.29 L60.55 364.49 L59.77 364.7 L58.98 364.92 L58.2 365.17 L57.43 365.43 L56.66 365.7 L55.88 365.97 L55.11 366.22 L54.33 366.45 L53.54 366.65 L52.75 366.81 L51.93 366.92 L51.1 367.02 L50.27 367.1 L49.45 367.19 L48.66 367.31 L47.91 367.48 L47.17 367.78 L46.45 368.24 L45.8 368.79 L45.27 369.36 L44.82 370 L44.42 370.72 L44.07 371.49 L43.77 372.28 L43.52 373.04 L43.29 373.82 L43.09 374.61 L42.93 375.41 L42.8 376.23" fill="none" stroke="#FF0000" stroke-width="1.05" stroke-linejoin="round" stroke-linecap="round"/>
<path d="M42.8 376.21 L42.86 375.2 L42.91 374.19 L42.96 373.18 L43.01 372.17 L43.06 371.16 L43.11 370.14 L43.16 369.13 L43.21 368.12 L43.26 367.11 L43.31 366.1 L43.36 365.09 L43.41 364.08 L43.45 363.06 L43.5 362.05 L43.55 361.04 L43.6 360.03 L43.65 359.02 L43.7 358.01 L43.75 356.99 L43.8 355.98 L43.86 354.97 L43.91 353.96 L43.97 352.95 L44.02 351.94 L44.08 350.93 L44.15 349.92 L44.21 348.91 L44.27 347.9 L44.33 346.88 L44.4 345.87 L44.47 344.86 L44.54 343.85 L44.61 342.84 L44.7 341.83 L44.79 340.82 L44.89 339.82 L45 338.81 L45.13 337.8 L45.27 336.79 L45.43 335.78 L45.6 334.78 L45.79 333.79 L46 332.81 L46.24 331.84 L46.52 330.86 L46.86 329.89 L47.24 328.94 L47.66 328 L48.12 327.08 L48.59 326.21 L49.11 325.37 L49.7 324.56 L50.36 323.77 L51.06 323 L51.79 322.28 L52.52 321.59 L53.28 320.95 L54.08 320.34 L54.91 319.75 L55.76 319.19 L56.63 318.64 L57.5 318.11 L58.36 317.57 L59.22 317.05 L60.1 316.53 L60.98 316.03 L61.86 315.53 L62.75 315.05 L63.65 314.58 L64.56 314.12 L65.47 313.69 L66.38 313.26 L67.3 312.84 L68.23 312.43 L69.17 312.04 L70.11 311.65 L71.05 311.27 L71.99 310.91 L72.94 310.56 L73.89 310.21 L74.85 309.88 L75.81 309.56 L76.77 309.24 L77.74 308.94 L78.71 308.64 L79.68 308.35 L80.66 308.07 L81.63 307.81 L82.61 307.55 L83.59 307.3 L84.57 307.06 L85.56 306.82 L86.55 306.59 L87.54 306.37 L88.53 306.16 L89.52 305.95 L90.51 305.75 L91.5 305.55 L92.5 305.36 L93.49 305.18 L94.49 305.01 L95.49 304.84 L96.49 304.68 L97.49 304.53 L98.5 304.39 L99.5 304.25 L100.5 304.1 L101.5 303.94 L102.5 303.77 L103.5 303.61 L104.51 303.43 L105.51 303.25 L106.5 303.06 L107.5 302.85 L108.48 302.63 L109.46 302.4 L110.43 302.14 L111.39 301.84 L112.36 301.52 L113.32 301.18 L114.28 300.81 L115.22 300.41 L116.16 300 L117.08 299.58 L117.98 299.13 L118.86 298.68 L119.73 298.19 L120.58 297.66 L121.43 297.11 L122.27 296.52 L123.09 295.92 L123.9 295.3 L124.71 294.66 L125.51 294.02 L126.29 293.38 L127.07 292.73 L127.84 292.08 L128.6 291.42 L129.34 290.73 L130.07 290.04 L130.8 289.33 L131.52 288.61 L132.23 287.89 L132.94 287.17 L133.65 286.44 L134.37 285.72 L135.09 285 L135.81 284.29 L136.54 283.59 L137.27 282.88 L137.99 282.16 L138.71 281.45 L139.45 280.75 L140.2 280.07 L140.97 279.42 L141.75 278.79 L142.56 278.17 L143.38 277.57 L144.21 276.98 L145.06 276.42 L145.92 275.89 L146.79 275.39 L147.69 274.92 L148.6 274.46 L149.53 274.04 L150.47 273.66 L151.42 273.34 L152.39 273.01 L153.38 272.71 L154.37 272.49 L155.36 272.43 L156.37 272.46 L157.38 272.53 L158.4 272.62 L159.41 272.73 L160.4 272.86 L161.39 273.05 L162.37 273.3 L163.34 273.59 L164.32 273.9 L165.29 274.22 L166.26 274.53 L167.24 274.81 L168.22 275.04 L169.21 275.24 L170.21 275.43 L171.2 275.62 L172.2 275.8 L173.21 275.97 L174.21 276.12 L175.22 276.24 L176.23 276.33 L177.24 276.38 L178.24 276.4 L179.26 276.42 L180.27 276.44 L181.28 276.45 L182.3 276.47 L183.31 276.48 L184.32 276.48 L185.34 276.49 L186.35 276.49 L187.36 276.47 L188.37 276.42 L189.38 276.34 L190.38 276.24 L191.39 276.12 L192.4 275.99 L193.4 275.84 L194.41 275.7 L195.41 275.55 L196.42 275.41 L197.42 275.27 L198.42 275.14 L199.43 274.99 L200.43 274.85 L201.43 274.69 L202.43 274.53 L203.43 274.36 L204.43 274.19 L205.43 274.02 L206.42 273.84 L207.42 273.66 L208.42 273.48 L209.41 273.29 L210.41 273.1 L211.4 272.91 L212.39 272.71 L213.39 272.5 L214.38 272.29 L215.37 272.08 L216.36 271.85 L217.34 271.62 L218.33 271.38 L219.31 271.13 L220.28 270.87 L221.25 270.58 L222.22 270.29 L223.19 269.98 L224.15 269.66 L225.11 269.33 L226.06 269 L227.02 268.65 L227.96 268.29 L228.91 267.92 L229.85 267.54 L230.8 267.16 L231.73 266.75 L232.6 266.28 L233.43 265.71 L234.22 265.06 L234.97 264.34 L235.66 263.59 L236.27 262.8 L236.83 261.95 L237.32 261.05 L237.73 260.14 L238.09 259.19 L238.39 258.21 L238.39 258.21 L238.4 259.06 L238.4 259.9 L238.4 260.74 L238.41 261.58 L238.41 262.42 L238.42 263.26 L238.42 264.1 L238.42 264.95 L238.42 265.79 L238.43 266.63 L238.43 267.47 L238.43 268.31 L238.44 269.15 L238.44 270 L238.44 270.84 L238.44 271.68 L238.44 272.52 L238.45 273.36 L238.45 274.2 L238.45 275.04 L238.45 275.89 L238.45 276.73 L238.45 277.57 L238.46 278.41 L238.46 279.25 L238.46 280.09 L238.46 280.93 L238.46 281.78 L238.46 282.62 L238.46 283.46 L238.46 284.3 L238.46 285.14 L238.46 285.98 L238.47 286.82 L238.47 287.67 L238.47 288.51 L238.47 289.35 L238.47 290.19 L238.47 291.03 L238.47 291.87 L238.47 292.71 L238.47 293.56 L238.47 294.4 L238.47 295.24 L238.47 296.08 L238.47 296.92 L238.47 297.76 L238.47 298.61 L238.47 299.45 L238.47 300.29 L238.47 301.13 L238.47 301.97 L238.47 302.81 L238.47 303.65 L238.47 304.5 L238.47 305.34 L238.47 306.18 L238.47 307.02 L238.46 307.86 L238.46 308.7 L238.46 309.55 L238.46 310.39 L238.45 311.23 L238.45 312.07 L238.44 312.91 L238.44 313.76 L238.43 314.6 L238.42 315.44 L238.42 316.28 L238.41 317.12 L238.4 317.97 L238.39 318.81 L238.38 319.65 L238.37 320.49 L238.36 321.33 L238.35 322.17 L238.33 323.01 L238.32 323.85 L238.3 324.69 L238.26 325.53 L238.2 326.37 L238.12 327.21 L238.04 328.05 L237.94 328.89 L237.83 329.72 L237.72 330.55 L237.56 331.37 L237.37 332.19 L237.15 333.01 L236.94 333.83 L236.74 334.65 L236.58 335.47 L236.43 336.31 L236.3 337.16 L236.16 338 L236.01 338.83 L235.84 339.64 L235.63 340.43 L235.36 341.21 L235.02 341.98 L234.61 342.74 L234.16 343.49 L233.68 344.2 L233.18 344.87 L232.67 345.5 L232.12 346.11 L231.52 346.7 L230.89 347.27 L230.23 347.82 L229.54 348.34 L228.84 348.84 L228.13 349.31 L227.42 349.75 L226.71 350.16 L225.97 350.55 L225.22 350.93 L224.46 351.28 L223.68 351.63 L222.9 351.95 L222.11 352.27 L221.31 352.58 L220.52 352.87 L219.73 353.16 L218.94 353.44 L218.15 353.71 L217.35 353.98 L216.55 354.25 L215.75 354.51 L214.94 354.76 L214.13 355 L213.32 355.24 L212.51 355.47 L211.69 355.69 L210.88 355.9 L210.06 356.09 L209.24 356.28 L208.42 356.46 L207.6 356.64 L206.78 356.82 L205.95 357.01 L205.13 357.19 L204.3 357.37 L203.47 357.54 L202.63 357.7 L201.8 357.85 L200.97 357.97 L200.13 358.08 L199.3 358.16 L198.46 358.21 L197.63 358.22 L196.79 358.22 L195.95 358.21 L195.11 358.19 L194.27 358.17 L193.43 358.14 L192.58 358.12 L191.74 358.1 L190.9 358.07 L190.05 358.06 L189.21 358.05 L188.37 358.05 L187.53 358.06 L186.69 358.09 L185.84 358.13 L185 358.19 L184.16 358.25 L183.32 358.33 L182.48 358.41 L181.65 358.5 L180.82 358.6 L179.99 358.72 L179.16 358.89 L178.34 359.09 L177.52 359.32 L176.71 359.57 L175.91 359.84 L175.13 360.11 L174.35 360.42 L173.57 360.76 L172.81 361.13 L172.05 361.53 L171.32 361.96 L170.6 362.4 L169.91 362.86 L169.24 363.34 L168.6 363.87 L167.98 364.43 L167.37 365.02 L166.77 365.63 L166.17 366.24 L165.59 366.85 L165 367.46 L164.42 368.07 L163.87 368.7 L163.31 369.34 L162.77 369.99 L162.22 370.63 L161.67 371.27 L161.11 371.9 L160.54 372.51 L159.94 373.1 L159.33 373.67 L158.68 374.22 L158 374.7 L157.27 375.15 L156.5 375.46 L155.67 375.64 L154.83 375.65 L154 375.52 L153.17 375.34 L152.37 375.08 L151.6 374.76 L150.85 374.37 L150.12 373.94 L149.4 373.51 L148.69 373.06 L147.99 372.6 L147.3 372.11 L146.62 371.62 L145.94 371.12 L145.27 370.61 L144.59 370.11 L143.91 369.61 L143.23 369.11 L142.54 368.62 L141.86 368.13 L141.18 367.64 L140.5 367.14 L139.82 366.64 L139.14 366.15 L138.46 365.65 L137.78 365.15 L137.1 364.66 L136.42 364.16 L135.73 363.67 L135.05 363.18 L134.36 362.7 L133.67 362.22 L132.97 361.75 L132.27 361.28 L131.57 360.82 L130.87 360.36 L130.16 359.89 L129.46 359.42 L128.75 358.95 L128.04 358.48 L127.33 358.01 L126.61 357.55 L125.89 357.1 L125.17 356.66 L124.44 356.23 L123.71 355.83 L122.97 355.44 L122.22 355.08 L121.47 354.74 L120.71 354.42 L119.94 354.1 L119.16 353.76 L118.37 353.43 L117.57 353.1 L116.77 352.78 L115.97 352.47 L115.15 352.19 L114.34 351.93 L113.52 351.7 L112.7 351.51 L111.87 351.36 L111.05 351.26 L110.23 351.21 L109.4 351.21 L108.56 351.21 L107.72 351.21 L106.88 351.21 L106.03 351.21 L105.19 351.21 L104.34 351.21 L103.5 351.21 L102.66 351.21 L101.82 351.23 L100.98 351.3 L100.14 351.41 L99.31 351.56 L98.48 351.73 L97.65 351.92 L96.83 352.11 L96.02 352.3 L95.21 352.5 L94.41 352.74 L93.62 353.01 L92.82 353.29 L92.04 353.6 L91.25 353.92 L90.47 354.25 L89.7 354.59 L88.92 354.94 L88.14 355.28 L87.37 355.61 L86.6 355.94 L85.83 356.28 L85.07 356.63 L84.3 356.99 L83.54 357.35 L82.78 357.72 L82.03 358.08 L81.27 358.45 L80.51 358.81 L79.75 359.18 L79 359.58 L78.25 360 L77.5 360.43 L76.75 360.85 L76 361.25 L75.24 361.6 L74.47 361.9 L73.69 362.13 L72.89 362.3 L72.07 362.43 L71.24 362.54 L70.4 362.64 L69.56 362.73 L68.71 362.83 L67.86 362.92 L67.02 363.03 L66.19 363.16 L65.36 363.29 L64.53 363.43 L63.7 363.57 L62.87 363.72 L62.04 363.88 L61.22 364.04 L60.39 364.21 L59.57 364.39 L58.75 364.58 L57.94 364.78 L57.13 365 L56.31 365.22 L55.5 365.45 L54.69 365.67 L53.88 365.89 L53.06 366.1 L52.23 366.28 L51.39 366.45 L50.54 366.61 L49.71 366.78 L48.9 366.98 L48.12 367.22 L47.38 367.55 L46.64 368.01 L45.96 368.57 L45.39 369.16 L44.92 369.81 L44.5 370.54 L44.13 371.33 L43.82 372.14 L43.55 372.93 L43.32 373.73 L43.11 374.54 L42.93 375.37 L42.8 376.22" fill="none" stroke="#C00000" stroke-width="1.05" stroke-linejoin="round" stroke-linecap="round"/>
<path d="M42.8 376.21 L42.86 375.2 L42.91 374.18 L42.96 373.16 L43.01 372.15 L43.07 371.13 L43.12 370.11 L43.17 369.1 L43.23 368.08 L43.28 367.06 L43.33 366.05 L43.39 365.03 L43.44 364.01 L43.49 363 L43.54 361.98 L43.6 360.96 L43.65 359.95 L43.71 358.93 L43.77 357.91 L43.83 356.9 L43.89 355.88 L43.95 354.86 L44.01 353.85 L44.07 352.83 L44.14 351.82 L44.21 350.8 L44.27 349.79 L44.34 348.77 L44.41 347.75 L44.48 346.74 L44.54 345.72 L44.62 344.7 L44.69 343.69 L44.77 342.67 L44.86 341.66 L44.96 340.65 L45.06 339.64 L45.18 338.62 L45.32 337.6 L45.47 336.59 L45.63 335.58 L45.82 334.57 L46.02 333.58 L46.25 332.61 L46.52 331.64 L46.86 330.67 L47.25 329.71 L47.69 328.77 L48.17 327.86 L48.68 326.99 L49.22 326.17 L49.85 325.37 L50.54 324.61 L51.28 323.87 L52.04 323.17 L52.8 322.51 L53.58 321.88 L54.4 321.28 L55.24 320.7 L56.1 320.14 L56.97 319.59 L57.84 319.05 L58.7 318.51 L59.57 317.99 L60.45 317.47 L61.34 316.97 L62.23 316.47 L63.12 315.98 L64.02 315.51 L64.93 315.04 L65.83 314.58 L66.74 314.13 L67.66 313.68 L68.58 313.24 L69.5 312.8 L70.43 312.38 L71.36 311.97 L72.29 311.56 L73.23 311.17 L74.17 310.78 L75.11 310.4 L76.06 310.03 L77.01 309.66 L77.97 309.3 L78.93 308.95 L79.89 308.62 L80.85 308.29 L81.82 307.98 L82.79 307.69 L83.77 307.4 L84.75 307.12 L85.73 306.85 L86.72 306.59 L87.7 306.34 L88.69 306.09 L89.68 305.85 L90.67 305.62 L91.66 305.39 L92.66 305.17 L93.66 304.96 L94.65 304.76 L95.65 304.57 L96.65 304.39 L97.66 304.22 L98.67 304.07 L99.67 303.91 L100.68 303.75 L101.68 303.57 L102.68 303.39 L103.69 303.2 L104.7 303.01 L105.7 302.82 L106.7 302.61 L107.69 302.38 L108.68 302.14 L109.65 301.88 L110.62 301.6 L111.58 301.28 L112.54 300.92 L113.5 300.55 L114.45 300.14 L115.39 299.72 L116.31 299.27 L117.22 298.81 L118.11 298.34 L118.98 297.86 L119.84 297.33 L120.68 296.78 L121.51 296.19 L122.34 295.58 L123.15 294.95 L123.95 294.31 L124.74 293.65 L125.53 292.98 L126.3 292.31 L127.07 291.65 L127.83 290.98 L128.58 290.29 L129.31 289.59 L130.03 288.88 L130.75 288.16 L131.46 287.42 L132.17 286.69 L132.87 285.95 L133.57 285.21 L134.28 284.47 L134.99 283.74 L135.71 283.01 L136.43 282.29 L137.15 281.57 L137.86 280.84 L138.58 280.11 L139.31 279.4 L140.05 278.7 L140.81 278.04 L141.59 277.39 L142.39 276.76 L143.21 276.13 L144.04 275.53 L144.88 274.95 L145.74 274.41 L146.61 273.89 L147.5 273.41 L148.41 272.94 L149.34 272.5 L150.28 272.12 L151.24 271.78 L152.21 271.45 L153.2 271.14 L154.19 270.9 L155.19 270.81 L156.2 270.83 L157.22 270.89 L158.24 270.98 L159.26 271.08 L160.26 271.2 L161.26 271.37 L162.25 271.6 L163.23 271.87 L164.22 272.17 L165.2 272.47 L166.18 272.76 L167.17 273.02 L168.16 273.23 L169.16 273.39 L170.17 273.56 L171.17 273.71 L172.18 273.87 L173.2 274 L174.21 274.12 L175.23 274.22 L176.24 274.28 L177.26 274.31 L178.27 274.3 L179.29 274.3 L180.31 274.29 L181.33 274.28 L182.35 274.26 L183.37 274.25 L184.39 274.23 L185.4 274.21 L186.42 274.18 L187.43 274.14 L188.45 274.07 L189.46 273.98 L190.47 273.87 L191.48 273.74 L192.49 273.61 L193.51 273.46 L194.52 273.31 L195.52 273.16 L196.53 273.02 L197.54 272.88 L198.55 272.74 L199.56 272.59 L200.56 272.44 L201.57 272.29 L202.58 272.12 L203.58 271.96 L204.58 271.79 L205.59 271.61 L206.59 271.44 L207.59 271.25 L208.59 271.07 L209.59 270.89 L210.6 270.7 L211.6 270.51 L212.61 270.32 L213.61 270.12 L214.61 269.91 L215.61 269.7 L216.6 269.47 L217.58 269.22 L218.56 268.97 L219.53 268.69 L220.49 268.37 L221.45 268.01 L222.4 267.62 L223.34 267.22 L224.26 266.8 L225.17 266.35 L226.07 265.87 L226.96 265.38 L227.84 264.87 L228.73 264.36 L229.61 263.85 L230.51 263.36 L231.41 262.85 L232.26 262.3 L233.04 261.69 L233.8 261 L234.53 260.27 L235.21 259.49 L235.83 258.69 L236.4 257.86 L236.91 256.97 L237.37 256.05 L237.76 255.12 L238.1 254.16 L238.39 253.18 L238.39 253.18 L238.4 254.04 L238.4 254.9 L238.4 255.76 L238.41 256.62 L238.41 257.48 L238.41 258.34 L238.42 259.2 L238.42 260.06 L238.42 260.92 L238.43 261.77 L238.43 262.63 L238.43 263.49 L238.43 264.35 L238.44 265.21 L238.44 266.07 L238.44 266.93 L238.44 267.79 L238.44 268.65 L238.45 269.51 L238.45 270.37 L238.45 271.23 L238.45 272.09 L238.45 272.95 L238.45 273.81 L238.45 274.67 L238.46 275.53 L238.46 276.39 L238.46 277.25 L238.46 278.11 L238.46 278.97 L238.46 279.83 L238.46 280.69 L238.46 281.55 L238.46 282.41 L238.46 283.27 L238.46 284.13 L238.47 284.99 L238.47 285.85 L238.47 286.71 L238.47 287.57 L238.47 288.43 L238.47 289.28 L238.47 290.14 L238.47 291 L238.47 291.86 L238.47 292.72 L238.47 293.58 L238.47 294.44 L238.47 295.3 L238.47 296.16 L238.47 297.02 L238.47 297.88 L238.47 298.74 L238.47 299.6 L238.47 300.46 L238.47 301.32 L238.47 302.18 L238.47 303.04 L238.47 303.9 L238.47 304.76 L238.47 305.62 L238.47 306.48 L238.47 307.34 L238.46 308.2 L238.46 309.06 L238.46 309.92 L238.45 310.78 L238.45 311.64 L238.45 312.5 L238.44 313.36 L238.43 314.22 L238.43 315.08 L238.42 315.94 L238.41 316.8 L238.4 317.66 L238.39 318.52 L238.38 319.38 L238.37 320.24 L238.36 321.1 L238.35 321.96 L238.34 322.81 L238.32 323.67 L238.3 324.53 L238.27 325.39 L238.21 326.25 L238.13 327.11 L238.04 327.97 L237.95 328.82 L237.84 329.67 L237.73 330.52 L237.57 331.36 L237.37 332.2 L237.16 333.03 L236.95 333.87 L236.75 334.71 L236.58 335.55 L236.44 336.41 L236.3 337.26 L236.16 338.12 L236.02 338.97 L235.85 339.81 L235.65 340.63 L235.41 341.43 L235.1 342.23 L234.75 343.03 L234.35 343.81 L233.93 344.57 L233.49 345.32 L233.03 346.05 L232.58 346.76 L232.1 347.48 L231.59 348.19 L231.07 348.9 L230.51 349.59 L229.94 350.27 L229.35 350.91 L228.74 351.52 L228.12 352.09 L227.48 352.62 L226.82 353.1 L226.12 353.56 L225.39 353.99 L224.63 354.41 L223.85 354.81 L223.06 355.19 L222.26 355.55 L221.45 355.89 L220.64 356.22 L219.84 356.53 L219.04 356.83 L218.24 357.12 L217.43 357.4 L216.61 357.68 L215.79 357.94 L214.97 358.2 L214.14 358.45 L213.31 358.68 L212.47 358.91 L211.64 359.13 L210.8 359.34 L209.96 359.54 L209.12 359.73 L208.29 359.9 L207.45 360.09 L206.61 360.28 L205.76 360.47 L204.92 360.65 L204.07 360.84 L203.22 361.01 L202.37 361.17 L201.52 361.31 L200.67 361.43 L199.81 361.53 L198.96 361.6 L198.11 361.64 L197.25 361.64 L196.4 361.63 L195.54 361.61 L194.68 361.58 L193.82 361.54 L192.96 361.51 L192.1 361.47 L191.24 361.44 L190.38 361.41 L189.52 361.39 L188.66 361.38 L187.8 361.38 L186.94 361.39 L186.07 361.4 L185.21 361.41 L184.35 361.42 L183.49 361.44 L182.63 361.46 L181.77 361.49 L180.92 361.52 L180.07 361.57 L179.21 361.68 L178.36 361.83 L177.51 362.02 L176.67 362.22 L175.84 362.44 L175.02 362.67 L174.21 362.93 L173.4 363.24 L172.59 363.59 L171.8 363.97 L171.04 364.37 L170.29 364.79 L169.58 365.23 L168.9 365.72 L168.23 366.26 L167.59 366.84 L166.95 367.44 L166.33 368.05 L165.72 368.67 L165.1 369.27 L164.5 369.88 L163.92 370.52 L163.35 371.16 L162.78 371.82 L162.22 372.47 L161.65 373.12 L161.07 373.76 L160.48 374.38 L159.87 374.97 L159.23 375.55 L158.57 376.1 L157.86 376.59 L157.11 377.03 L156.31 377.3 L155.45 377.46 L154.6 377.42 L153.75 377.27 L152.91 377.06 L152.11 376.78 L151.33 376.42 L150.57 376 L149.83 375.56 L149.09 375.12 L148.38 374.65 L147.67 374.17 L146.97 373.67 L146.27 373.16 L145.58 372.65 L144.89 372.13 L144.2 371.62 L143.5 371.11 L142.8 370.61 L142.1 370.11 L141.41 369.6 L140.71 369.1 L140.02 368.59 L139.32 368.08 L138.63 367.57 L137.93 367.06 L137.24 366.56 L136.54 366.05 L135.84 365.55 L135.14 365.05 L134.44 364.56 L133.73 364.07 L133.02 363.58 L132.31 363.11 L131.59 362.64 L130.87 362.16 L130.15 361.69 L129.43 361.2 L128.71 360.72 L127.99 360.24 L127.26 359.76 L126.53 359.29 L125.79 358.83 L125.05 358.39 L124.31 357.96 L123.56 357.54 L122.8 357.15 L122.03 356.79 L121.26 356.45 L120.48 356.12 L119.69 355.79 L118.89 355.45 L118.08 355.11 L117.27 354.78 L116.45 354.46 L115.62 354.15 L114.79 353.87 L113.96 353.62 L113.12 353.4 L112.28 353.23 L111.44 353.1 L110.59 353.03 L109.75 353.01 L108.9 353 L108.05 353 L107.19 353 L106.32 353 L105.46 352.99 L104.59 352.99 L103.73 352.99 L102.87 352.99 L102.01 353 L101.15 353.04 L100.29 353.1 L99.43 353.2 L98.58 353.31 L97.72 353.43 L96.87 353.56 L96.03 353.69 L95.19 353.84 L94.35 354.01 L93.52 354.21 L92.68 354.43 L91.86 354.67 L91.03 354.93 L90.2 355.19 L89.38 355.46 L88.57 355.74 L87.75 356.02 L86.94 356.29 L86.13 356.58 L85.32 356.87 L84.52 357.18 L83.72 357.5 L82.92 357.83 L82.13 358.17 L81.34 358.51 L80.55 358.85 L79.76 359.2 L78.99 359.59 L78.22 360.01 L77.46 360.45 L76.69 360.87 L75.92 361.28 L75.15 361.64 L74.36 361.94 L73.55 362.16 L72.73 362.32 L71.9 362.46 L71.05 362.57 L70.19 362.67 L69.33 362.77 L68.46 362.86 L67.6 362.96 L66.74 363.07 L65.89 363.18 L65.04 363.3 L64.18 363.41 L63.33 363.53 L62.48 363.65 L61.63 363.77 L60.78 363.9 L59.93 364.05 L59.09 364.2 L58.25 364.37 L57.4 364.55 L56.56 364.74 L55.73 364.93 L54.89 365.14 L54.06 365.35 L53.22 365.56 L52.39 365.78 L51.54 365.99 L50.69 366.21 L49.85 366.45 L49.04 366.71 L48.25 367.02 L47.51 367.38 L46.77 367.86 L46.07 368.42 L45.47 369.03 L44.99 369.68 L44.56 370.42 L44.17 371.22 L43.85 372.04 L43.57 372.85 L43.33 373.67 L43.12 374.5 L42.94 375.35 L42.8 376.21" fill="none" stroke="#00B0F0" stroke-width="1.05" stroke-linejoin="round" stroke-linecap="round"/>
<path d="M42.8 376.21 L42.86 375.21 L42.91 374.2 L42.96 373.19 L43.01 372.19 L43.06 371.18 L43.11 370.18 L43.17 369.17 L43.22 368.16 L43.27 367.16 L43.32 366.15 L43.37 365.15 L43.42 364.14 L43.47 363.13 L43.52 362.13 L43.57 361.12 L43.63 360.12 L43.68 359.11 L43.73 358.1 L43.79 357.1 L43.85 356.09 L43.9 355.09 L43.96 354.08 L44.02 353.08 L44.08 352.07 L44.15 351.07 L44.21 350.06 L44.28 349.06 L44.34 348.05 L44.41 347.04 L44.47 346.04 L44.54 345.03 L44.61 344.03 L44.69 343.02 L44.77 342.02 L44.86 341.02 L44.96 340.02 L45.08 339.01 L45.2 338.01 L45.34 337 L45.5 336 L45.67 335 L45.86 334.01 L46.07 333.04 L46.31 332.08 L46.6 331.11 L46.95 330.15 L47.34 329.21 L47.78 328.28 L48.25 327.39 L48.75 326.53 L49.29 325.72 L49.91 324.93 L50.59 324.16 L51.32 323.43 L52.06 322.73 L52.8 322.07 L53.58 321.44 L54.39 320.85 L55.22 320.27 L56.07 319.72 L56.93 319.18 L57.79 318.64 L58.65 318.12 L59.51 317.6 L60.38 317.08 L61.26 316.58 L62.14 316.09 L63.03 315.61 L63.92 315.14 L64.81 314.69 L65.71 314.24 L66.62 313.8 L67.53 313.37 L68.44 312.94 L69.36 312.53 L70.29 312.12 L71.21 311.72 L72.14 311.33 L73.08 310.96 L74.01 310.59 L74.95 310.23 L75.9 309.88 L76.85 309.53 L77.8 309.2 L78.75 308.87 L79.71 308.55 L80.67 308.25 L81.63 307.96 L82.6 307.67 L83.56 307.4 L84.54 307.13 L85.51 306.88 L86.49 306.63 L87.47 306.39 L88.45 306.15 L89.43 305.93 L90.41 305.71 L91.4 305.51 L92.39 305.3 L93.38 305.11 L94.37 304.93 L95.36 304.76 L96.36 304.61 L97.35 304.48 L98.35 304.36 L99.35 304.24 L100.36 304.11 L101.35 303.98 L102.35 303.84 L103.36 303.71 L104.36 303.57 L105.36 303.43 L106.36 303.28 L107.35 303.12 L108.34 302.94 L109.32 302.75 L110.3 302.53 L111.27 302.29 L112.24 302.01 L113.21 301.7 L114.18 301.36 L115.13 301.01 L116.07 300.63 L117 300.24 L117.91 299.83 L118.81 299.41 L119.69 298.96 L120.55 298.46 L121.41 297.93 L122.26 297.37 L123.09 296.79 L123.92 296.19 L124.73 295.58 L125.54 294.95 L126.33 294.33 L127.12 293.7 L127.9 293.07 L128.66 292.43 L129.41 291.76 L130.15 291.08 L130.88 290.39 L131.61 289.68 L132.33 288.98 L133.05 288.27 L133.77 287.56 L134.49 286.85 L135.22 286.14 L135.95 285.45 L136.69 284.76 L137.42 284.06 L138.14 283.36 L138.88 282.66 L139.62 281.98 L140.37 281.32 L141.15 280.69 L141.95 280.08 L142.76 279.47 L143.58 278.88 L144.42 278.31 L145.27 277.77 L146.14 277.26 L147.01 276.77 L147.91 276.31 L148.82 275.86 L149.75 275.45 L150.68 275.1 L151.64 274.78 L152.6 274.45 L153.59 274.16 L154.58 273.98 L155.57 273.94 L156.57 273.98 L157.58 274.05 L158.59 274.15 L159.59 274.26 L160.58 274.39 L161.56 274.58 L162.54 274.83 L163.51 275.11 L164.48 275.41 L165.45 275.72 L166.42 276.01 L167.39 276.27 L168.38 276.48 L169.37 276.65 L170.36 276.83 L171.35 277 L172.35 277.17 L173.35 277.31 L174.36 277.44 L175.36 277.54 L176.36 277.61 L177.37 277.63 L178.37 277.63 L179.38 277.63 L180.39 277.63 L181.39 277.63 L182.4 277.62 L183.41 277.62 L184.42 277.62 L185.43 277.61 L186.43 277.61 L187.44 277.58 L188.44 277.52 L189.44 277.44 L190.44 277.33 L191.45 277.21 L192.45 277.07 L193.45 276.93 L194.45 276.78 L195.45 276.63 L196.44 276.49 L197.44 276.35 L198.44 276.21 L199.44 276.07 L200.43 275.92 L201.43 275.76 L202.42 275.61 L203.42 275.44 L204.41 275.27 L205.4 275.1 L206.4 274.92 L207.39 274.74 L208.38 274.56 L209.37 274.38 L210.36 274.19 L211.35 274 L212.34 273.8 L213.32 273.59 L214.31 273.39 L215.3 273.17 L216.28 272.95 L217.26 272.72 L218.24 272.48 L219.21 272.24 L220.18 271.97 L221.15 271.69 L222.11 271.4 L223.07 271.09 L224.03 270.78 L224.99 270.46 L225.94 270.13 L226.89 269.79 L227.84 269.44 L228.78 269.09 L229.72 268.73 L230.67 268.37 L231.62 267.99 L232.5 267.54 L233.33 267.01 L234.14 266.39 L234.91 265.69 L235.61 264.96 L236.23 264.19 L236.8 263.36 L237.3 262.47 L237.72 261.56 L238.09 260.62 L238.39 259.65 L238.39 259.65 L238.4 260.49 L238.4 261.33 L238.4 262.17 L238.41 263.01 L238.41 263.85 L238.42 264.69 L238.42 265.52 L238.42 266.36 L238.43 267.2 L238.43 268.04 L238.43 268.88 L238.43 269.72 L238.44 270.56 L238.44 271.4 L238.44 272.23 L238.44 273.07 L238.45 273.91 L238.45 274.75 L238.45 275.59 L238.45 276.43 L238.45 277.27 L238.45 278.11 L238.46 278.94 L238.46 279.78 L238.46 280.62 L238.46 281.46 L238.46 282.3 L238.46 283.14 L238.46 283.98 L238.46 284.82 L238.46 285.65 L238.46 286.49 L238.47 287.33 L238.47 288.17 L238.47 289.01 L238.47 289.85 L238.47 290.69 L238.47 291.52 L238.47 292.36 L238.47 293.2 L238.47 294.04 L238.47 294.88 L238.47 295.72 L238.47 296.56 L238.47 297.4 L238.47 298.23 L238.47 299.07 L238.47 299.91 L238.47 300.75 L238.47 301.59 L238.47 302.43 L238.47 303.27 L238.47 304.11 L238.47 304.94 L238.47 305.78 L238.47 306.62 L238.47 307.46 L238.46 308.3 L238.46 309.14 L238.46 309.98 L238.45 310.82 L238.45 311.66 L238.45 312.5 L238.44 313.34 L238.43 314.18 L238.43 315.01 L238.42 315.85 L238.41 316.69 L238.4 317.53 L238.39 318.37 L238.39 319.21 L238.37 320.05 L238.36 320.88 L238.35 321.72 L238.34 322.56 L238.33 323.4 L238.31 324.23 L238.28 325.07 L238.23 325.91 L238.17 326.75 L238.09 327.59 L237.99 328.42 L237.89 329.25 L237.79 330.08 L237.66 330.91 L237.48 331.72 L237.28 332.54 L237.07 333.35 L236.86 334.17 L236.68 334.99 L236.52 335.82 L236.38 336.66 L236.25 337.5 L236.11 338.33 L235.96 339.15 L235.78 339.96 L235.56 340.75 L235.28 341.52 L234.94 342.29 L234.54 343.05 L234.1 343.8 L233.64 344.51 L233.16 345.2 L232.67 345.85 L232.15 346.49 L231.6 347.12 L231.01 347.74 L230.39 348.34 L229.75 348.91 L229.09 349.46 L228.42 349.98 L227.74 350.46 L227.06 350.9 L226.36 351.32 L225.63 351.72 L224.88 352.1 L224.12 352.46 L223.34 352.81 L222.56 353.14 L221.77 353.46 L220.98 353.77 L220.19 354.07 L219.4 354.35 L218.62 354.63 L217.83 354.91 L217.03 355.18 L216.23 355.44 L215.43 355.69 L214.63 355.94 L213.82 356.18 L213.01 356.41 L212.2 356.64 L211.38 356.85 L210.57 357.05 L209.75 357.25 L208.94 357.43 L208.12 357.6 L207.3 357.78 L206.48 357.97 L205.66 358.15 L204.83 358.33 L204.01 358.51 L203.18 358.68 L202.35 358.83 L201.52 358.97 L200.68 359.09 L199.85 359.19 L199.02 359.26 L198.19 359.3 L197.35 359.3 L196.52 359.3 L195.68 359.28 L194.84 359.26 L194 359.23 L193.17 359.21 L192.33 359.18 L191.48 359.15 L190.64 359.13 L189.8 359.12 L188.97 359.11 L188.13 359.11 L187.29 359.12 L186.45 359.15 L185.61 359.19 L184.76 359.24 L183.93 359.29 L183.09 359.36 L182.25 359.43 L181.42 359.51 L180.6 359.59 L179.77 359.71 L178.94 359.88 L178.12 360.08 L177.3 360.3 L176.5 360.55 L175.7 360.8 L174.92 361.07 L174.14 361.37 L173.36 361.71 L172.6 362.08 L171.84 362.48 L171.11 362.9 L170.4 363.34 L169.71 363.79 L169.05 364.28 L168.41 364.81 L167.79 365.38 L167.18 365.97 L166.59 366.58 L165.99 367.19 L165.4 367.79 L164.82 368.39 L164.25 369.01 L163.69 369.64 L163.14 370.28 L162.6 370.92 L162.05 371.56 L161.5 372.19 L160.94 372.81 L160.36 373.42 L159.76 374 L159.14 374.56 L158.48 375.09 L157.79 375.56 L157.05 375.98 L156.26 376.24 L155.43 376.39 L154.6 376.34 L153.77 376.2 L152.95 375.99 L152.16 375.72 L151.4 375.38 L150.66 374.98 L149.93 374.55 L149.22 374.12 L148.51 373.67 L147.82 373.2 L147.13 372.71 L146.46 372.22 L145.78 371.72 L145.11 371.21 L144.43 370.71 L143.75 370.21 L143.07 369.72 L142.39 369.23 L141.71 368.74 L141.03 368.25 L140.35 367.75 L139.67 367.26 L139 366.76 L138.32 366.27 L137.64 365.77 L136.96 365.28 L136.28 364.79 L135.6 364.3 L134.92 363.81 L134.23 363.33 L133.54 362.86 L132.85 362.39 L132.15 361.92 L131.45 361.46 L130.75 361 L130.05 360.53 L129.34 360.06 L128.64 359.59 L127.93 359.12 L127.22 358.66 L126.51 358.2 L125.79 357.75 L125.07 357.32 L124.34 356.9 L123.61 356.49 L122.87 356.11 L122.12 355.75 L121.37 355.41 L120.61 355.1 L119.84 354.78 L119.06 354.45 L118.28 354.11 L117.48 353.79 L116.69 353.47 L115.88 353.16 L115.07 352.88 L114.26 352.62 L113.44 352.4 L112.62 352.21 L111.8 352.07 L110.98 351.97 L110.16 351.93 L109.33 351.93 L108.5 351.93 L107.67 351.93 L106.82 351.92 L105.98 351.92 L105.14 351.92 L104.29 351.92 L103.45 351.92 L102.61 351.92 L101.78 351.94 L100.94 352 L100.1 352.1 L99.27 352.23 L98.44 352.37 L97.61 352.54 L96.79 352.7 L95.97 352.87 L95.16 353.05 L94.36 353.26 L93.56 353.5 L92.76 353.76 L91.96 354.03 L91.17 354.33 L90.38 354.63 L89.6 354.94 L88.81 355.25 L88.03 355.57 L87.25 355.87 L86.47 356.18 L85.7 356.5 L84.92 356.83 L84.16 357.17 L83.39 357.51 L82.63 357.86 L81.86 358.21 L81.1 358.56 L80.34 358.91 L79.58 359.28 L78.83 359.68 L78.08 360.1 L77.34 360.52 L76.59 360.94 L75.84 361.32 L75.08 361.67 L74.31 361.96 L73.53 362.17 L72.72 362.32 L71.91 362.45 L71.08 362.57 L70.24 362.66 L69.4 362.76 L68.55 362.85 L67.71 362.94 L66.88 363.05 L66.05 363.17 L65.21 363.29 L64.38 363.41 L63.55 363.53 L62.72 363.66 L61.9 363.79 L61.07 363.93 L60.24 364.08 L59.42 364.23 L58.6 364.4 L57.78 364.58 L56.97 364.78 L56.15 364.97 L55.34 365.18 L54.52 365.39 L53.71 365.6 L52.9 365.81 L52.08 366.01 L51.24 366.21 L50.41 366.41 L49.59 366.62 L48.8 366.87 L48.04 367.16 L47.31 367.53 L46.59 368.01 L45.92 368.57 L45.36 369.17 L44.9 369.82 L44.49 370.56 L44.12 371.34 L43.81 372.14 L43.55 372.93 L43.31 373.73 L43.11 374.54 L42.93 375.37 L42.8 376.21" fill="none" stroke="#0070C0" stroke-width="1.05" stroke-linejoin="round" stroke-linecap="round"/>
<path d="M42.8 376.21 L42.85 375.2 L42.9 374.2 L42.95 373.19 L42.99 372.18 L43.04 371.17 L43.07 370.16 L43.11 369.16 L43.14 368.15 L43.17 367.14 L43.2 366.13 L43.22 365.12 L43.24 364.11 L43.26 363.11 L43.28 362.1 L43.3 361.09 L43.31 360.08 L43.33 359.07 L43.35 358.06 L43.37 357.05 L43.39 356.04 L43.41 355.03 L43.43 354.03 L43.45 353.02 L43.47 352.01 L43.49 351 L43.51 349.99 L43.54 348.98 L43.58 347.98 L43.62 346.97 L43.67 345.96 L43.72 344.95 L43.78 343.94 L43.85 342.93 L43.92 341.93 L43.99 340.92 L44.08 339.92 L44.17 338.92 L44.27 337.91 L44.39 336.91 L44.53 335.9 L44.67 334.9 L44.83 333.9 L45 332.91 L45.18 331.92 L45.37 330.93 L45.58 329.95 L45.81 328.96 L46.07 327.97 L46.34 326.99 L46.64 326.01 L46.97 325.04 L47.31 324.09 L47.67 323.16 L48.05 322.24 L48.46 321.34 L48.91 320.44 L49.42 319.55 L49.97 318.67 L50.55 317.81 L51.17 317 L51.82 316.22 L52.48 315.51 L53.19 314.85 L53.96 314.23 L54.79 313.64 L55.65 313.08 L56.53 312.54 L57.42 312.02 L58.29 311.51 L59.16 310.98 L60.03 310.45 L60.92 309.93 L61.82 309.43 L62.72 308.97 L63.64 308.56 L64.57 308.23 L65.52 307.97 L66.48 307.72 L67.46 307.49 L68.46 307.27 L69.46 307.07 L70.47 306.91 L71.48 306.78 L72.49 306.68 L73.49 306.64 L74.5 306.62 L75.5 306.6 L76.51 306.59 L77.52 306.58 L78.53 306.57 L79.54 306.56 L80.55 306.55 L81.56 306.53 L82.57 306.51 L83.58 306.49 L84.59 306.46 L85.6 306.43 L86.61 306.39 L87.62 306.35 L88.62 306.31 L89.63 306.27 L90.64 306.23 L91.65 306.19 L92.66 306.15 L93.67 306.11 L94.67 306.06 L95.68 306.01 L96.69 305.93 L97.69 305.84 L98.69 305.73 L99.7 305.6 L100.69 305.46 L101.69 305.32 L102.69 305.16 L103.68 304.99 L104.68 304.8 L105.67 304.61 L106.66 304.4 L107.65 304.18 L108.63 303.95 L109.61 303.72 L110.58 303.47 L111.56 303.2 L112.53 302.92 L113.51 302.62 L114.47 302.31 L115.43 301.97 L116.38 301.63 L117.32 301.26 L118.24 300.88 L119.14 300.47 L120.04 300.03 L120.92 299.55 L121.8 299.05 L122.67 298.52 L123.53 297.97 L124.38 297.4 L125.22 296.83 L126.05 296.24 L126.86 295.65 L127.67 295.06 L128.46 294.44 L129.24 293.81 L130 293.16 L130.76 292.49 L131.51 291.81 L132.25 291.12 L132.99 290.43 L133.73 289.74 L134.48 289.05 L135.22 288.36 L135.97 287.69 L136.73 287.01 L137.47 286.33 L138.22 285.65 L138.97 284.97 L139.73 284.3 L140.5 283.66 L141.3 283.05 L142.11 282.45 L142.93 281.86 L143.77 281.29 L144.62 280.74 L145.49 280.22 L146.36 279.72 L147.25 279.25 L148.15 278.8 L149.07 278.37 L150.01 277.97 L150.95 277.64 L151.91 277.31 L152.88 276.99 L153.87 276.72 L154.86 276.58 L155.86 276.57 L156.86 276.62 L157.87 276.7 L158.88 276.8 L159.88 276.91 L160.87 277.06 L161.85 277.28 L162.83 277.54 L163.8 277.83 L164.77 278.13 L165.74 278.43 L166.72 278.71 L167.7 278.96 L168.68 279.15 L169.68 279.32 L170.67 279.5 L171.67 279.67 L172.67 279.82 L173.68 279.97 L174.68 280.09 L175.69 280.17 L176.69 280.23 L177.7 280.24 L178.7 280.23 L179.71 280.23 L180.72 280.23 L181.73 280.23 L182.74 280.22 L183.75 280.22 L184.76 280.21 L185.77 280.21 L186.78 280.19 L187.78 280.16 L188.79 280.09 L189.79 279.99 L190.79 279.88 L191.8 279.75 L192.8 279.61 L193.8 279.47 L194.8 279.32 L195.8 279.17 L196.8 279.03 L197.8 278.89 L198.8 278.75 L199.8 278.61 L200.8 278.45 L201.79 278.3 L202.79 278.14 L203.78 277.97 L204.78 277.8 L205.77 277.62 L206.77 277.45 L207.76 277.27 L208.75 277.08 L209.74 276.9 L210.73 276.71 L211.72 276.51 L212.71 276.31 L213.7 276.11 L214.69 275.89 L215.68 275.68 L216.66 275.45 L217.64 275.22 L218.62 274.98 L219.59 274.73 L220.56 274.45 L221.53 274.16 L222.49 273.85 L223.46 273.55 L224.42 273.24 L225.38 272.91 L226.33 272.57 L227.29 272.24 L228.25 271.95 L229.23 271.72 L230.22 271.56 L231.22 271.43 L232.22 271.3 L233.22 271.14 L234.23 270.97 L235.22 270.77 L236.18 270.5 L237.11 270.05 L237.84 269.42 L238.39 268.54 L238.39 268.54 L238.4 269.35 L238.4 270.16 L238.41 270.97 L238.41 271.79 L238.42 272.6 L238.42 273.41 L238.42 274.22 L238.43 275.03 L238.43 275.84 L238.43 276.65 L238.44 277.47 L238.44 278.28 L238.44 279.09 L238.45 279.9 L238.45 280.71 L238.45 281.52 L238.45 282.33 L238.45 283.15 L238.46 283.96 L238.46 284.77 L238.46 285.58 L238.46 286.39 L238.46 287.2 L238.46 288.01 L238.46 288.83 L238.46 289.64 L238.47 290.45 L238.47 291.26 L238.47 292.07 L238.47 292.88 L238.47 293.69 L238.47 294.51 L238.47 295.32 L238.47 296.13 L238.47 296.94 L238.47 297.75 L238.47 298.56 L238.47 299.37 L238.47 300.19 L238.47 301 L238.47 301.81 L238.47 302.62 L238.47 303.43 L238.47 304.24 L238.47 305.05 L238.47 305.87 L238.47 306.68 L238.47 307.49 L238.46 308.3 L238.46 309.11 L238.46 309.93 L238.45 310.74 L238.45 311.55 L238.45 312.36 L238.44 313.17 L238.44 313.99 L238.43 314.8 L238.42 315.61 L238.41 316.42 L238.41 317.23 L238.4 318.04 L238.39 318.85 L238.38 319.67 L238.37 320.48 L238.36 321.29 L238.35 322.1 L238.33 322.91 L238.32 323.72 L238.3 324.53 L238.27 325.34 L238.22 326.15 L238.15 326.96 L238.07 327.77 L237.98 328.58 L237.88 329.38 L237.77 330.18 L237.64 330.98 L237.46 331.77 L237.26 332.56 L237.04 333.34 L236.84 334.13 L236.66 334.92 L236.51 335.73 L236.37 336.55 L236.24 337.37 L236.1 338.18 L235.93 338.97 L235.74 339.73 L235.48 340.46 L235.12 341.2 L234.67 341.94 L234.14 342.63 L233.58 343.24 L232.99 343.74 L232.38 344.11 L231.68 344.43 L230.93 344.71 L230.13 344.96 L229.31 345.2 L228.49 345.43 L227.69 345.68 L226.92 345.95 L226.15 346.22 L225.39 346.5 L224.63 346.78 L223.86 347.05 L223.1 347.33 L222.33 347.6 L221.57 347.87 L220.8 348.13 L220.03 348.39 L219.26 348.63 L218.49 348.89 L217.71 349.14 L216.94 349.39 L216.17 349.64 L215.39 349.89 L214.61 350.13 L213.84 350.37 L213.06 350.6 L212.28 350.83 L211.49 351.04 L210.71 351.25 L209.93 351.44 L209.14 351.63 L208.35 351.8 L207.56 351.97 L206.76 352.15 L205.97 352.33 L205.17 352.5 L204.37 352.68 L203.57 352.84 L202.77 353 L201.97 353.14 L201.16 353.27 L200.36 353.37 L199.55 353.46 L198.74 353.52 L197.94 353.55 L197.13 353.55 L196.32 353.55 L195.51 353.54 L194.7 353.54 L193.89 353.54 L193.07 353.53 L192.26 353.53 L191.44 353.52 L190.63 353.52 L189.82 353.52 L189.01 353.51 L188.21 353.52 L187.4 353.56 L186.59 353.64 L185.78 353.74 L184.97 353.88 L184.17 354.03 L183.37 354.2 L182.57 354.38 L181.78 354.57 L181 354.75 L180.22 354.95 L179.45 355.19 L178.68 355.46 L177.91 355.76 L177.16 356.08 L176.41 356.41 L175.68 356.76 L174.96 357.11 L174.25 357.49 L173.54 357.89 L172.83 358.31 L172.14 358.76 L171.47 359.22 L170.81 359.7 L170.17 360.19 L169.55 360.69 L168.95 361.22 L168.37 361.78 L167.8 362.37 L167.24 362.96 L166.69 363.57 L166.15 364.18 L165.6 364.79 L165.05 365.39 L164.51 365.99 L163.99 366.62 L163.47 367.25 L162.96 367.88 L162.44 368.51 L161.92 369.14 L161.39 369.76 L160.85 370.36 L160.3 370.94 L159.73 371.51 L159.12 372.05 L158.49 372.57 L157.82 373.02 L157.11 373.44 L156.35 373.7 L155.55 373.86 L154.74 373.84 L153.94 373.71 L153.14 373.53 L152.37 373.28 L151.63 372.97 L150.9 372.6 L150.2 372.19 L149.5 371.77 L148.82 371.35 L148.14 370.9 L147.47 370.44 L146.82 369.96 L146.16 369.48 L145.51 369 L144.86 368.51 L144.2 368.02 L143.55 367.54 L142.89 367.07 L142.23 366.6 L141.57 366.12 L140.91 365.64 L140.25 365.17 L139.6 364.69 L138.94 364.2 L138.29 363.72 L137.63 363.25 L136.98 362.77 L136.32 362.29 L135.66 361.82 L135 361.35 L134.33 360.88 L133.67 360.42 L133 359.97 L132.32 359.52 L131.64 359.07 L130.97 358.63 L130.29 358.18 L129.61 357.72 L128.93 357.27 L128.24 356.81 L127.56 356.36 L126.87 355.91 L126.18 355.47 L125.48 355.05 L124.78 354.63 L124.08 354.23 L123.36 353.85 L122.65 353.48 L121.93 353.14 L121.2 352.82 L120.46 352.52 L119.71 352.2 L118.96 351.88 L118.2 351.56 L117.43 351.24 L116.65 350.93 L115.88 350.64 L115.09 350.37 L114.31 350.12 L113.52 349.9 L112.72 349.71 L111.93 349.57 L111.14 349.47 L110.34 349.42 L109.54 349.41 L108.74 349.41 L107.93 349.41 L107.12 349.41 L106.3 349.42 L105.48 349.42 L104.66 349.42 L103.85 349.42 L103.04 349.43 L102.24 349.43 L101.43 349.5 L100.63 349.62 L99.83 349.78 L99.03 349.99 L98.24 350.21 L97.46 350.46 L96.68 350.7 L95.92 350.94 L95.16 351.2 L94.41 351.48 L93.67 351.8 L92.93 352.14 L92.2 352.5 L91.48 352.87 L90.75 353.26 L90.03 353.65 L89.31 354.04 L88.59 354.43 L87.87 354.82 L87.15 355.19 L86.43 355.56 L85.71 355.94 L85 356.33 L84.29 356.72 L83.58 357.11 L82.87 357.5 L82.15 357.89 L81.44 358.28 L80.72 358.65 L80 359.03 L79.28 359.42 L78.56 359.82 L77.84 360.24 L77.12 360.65 L76.4 361.04 L75.67 361.4 L74.93 361.72 L74.18 361.99 L73.42 362.19 L72.64 362.34 L71.85 362.46 L71.03 362.57 L70.22 362.65 L69.4 362.74 L68.58 362.84 L67.77 362.95 L66.98 363.08 L66.21 363.26 L65.45 363.49 L64.7 363.78 L63.95 364.1 L63.21 364.45 L62.48 364.83 L61.75 365.21 L61.02 365.59 L60.29 365.96 L59.55 366.31 L58.82 366.71 L58.1 367.16 L57.38 367.64 L56.67 368.11 L55.95 368.56 L55.22 368.94 L54.49 369.25 L53.75 369.45 L53 369.52 L52.23 369.44 L51.44 369.22 L50.64 368.94 L49.84 368.64 L49.05 368.39 L48.27 368.24 L47.5 368.26 L46.7 368.55 L45.95 368.99 L45.34 369.48 L44.87 370.05 L44.45 370.75 L44.09 371.54 L43.78 372.33 L43.53 373.1 L43.3 373.87 L43.09 374.65 L42.92 375.45 L42.8 376.27" fill="none" stroke="#00B050" stroke-width="1.05" stroke-linejoin="round" stroke-linecap="round"/>
</g>
<rect x="39.5" y="250.3" width="207.5" height="143.9" fill="none" stroke="#3a3a3a" stroke-width="1.35"/>
<line x1="39.5" y1="376.21" x2="43" y2="376.21" stroke="#3a3a3a" stroke-width="1"/>
<line x1="39.5" y1="358.23" x2="43" y2="358.23" stroke="#3a3a3a" stroke-width="1"/>
<line x1="39.5" y1="340.24" x2="43" y2="340.24" stroke="#3a3a3a" stroke-width="1"/>
<line x1="39.5" y1="322.25" x2="43" y2="322.25" stroke="#3a3a3a" stroke-width="1"/>
<line x1="39.5" y1="304.26" x2="43" y2="304.26" stroke="#3a3a3a" stroke-width="1"/>
<line x1="39.5" y1="286.27" x2="43" y2="286.27" stroke="#3a3a3a" stroke-width="1"/>
<line x1="39.5" y1="268.29" x2="43" y2="268.29" stroke="#3a3a3a" stroke-width="1"/>
<line x1="85.61" y1="394.2" x2="85.61" y2="390.7" stroke="#3a3a3a" stroke-width="1"/>
<line x1="131.72" y1="394.2" x2="131.72" y2="390.7" stroke="#3a3a3a" stroke-width="1"/>
<line x1="177.83" y1="394.2" x2="177.83" y2="390.7" stroke="#3a3a3a" stroke-width="1"/>
<line x1="223.94" y1="394.2" x2="223.94" y2="390.7" stroke="#3a3a3a" stroke-width="1"/>
<text x="29.9" y="398.3" font-size="11.9" text-anchor="end" fill="#000" stroke="#000" stroke-width="0.28">-20</text>
<text x="29.9" y="380.31" font-size="11.9" text-anchor="end" fill="#000" stroke="#000" stroke-width="0.28">-15</text>
<text x="29.9" y="362.33" font-size="11.9" text-anchor="end" fill="#000" stroke="#000" stroke-width="0.28">-10</text>
<text x="29.9" y="344.34" font-size="11.9" text-anchor="end" fill="#000" stroke="#000" stroke-width="0.28">-5</text>
<text x="29.9" y="326.35" font-size="11.9" text-anchor="end" fill="#000" stroke="#000" stroke-width="0.28">0</text>
<text x="29.9" y="308.36" font-size="11.9" text-anchor="end" fill="#000" stroke="#000" stroke-width="0.28">5</text>
<text x="29.9" y="290.38" font-size="11.9" text-anchor="end" fill="#000" stroke="#000" stroke-width="0.28">10</text>
<text x="29.9" y="272.39" font-size="11.9" text-anchor="end" fill="#000" stroke="#000" stroke-width="0.28">15</text>
<text x="29.9" y="254.4" font-size="11.9" text-anchor="end" fill="#000" stroke="#000" stroke-width="0.28">20</text>
<text x="39.5" y="411.9" font-size="11.9" text-anchor="middle" fill="#000" stroke="#000" stroke-width="0.28">0</text>
<text x="85.61" y="411.9" font-size="11.9" text-anchor="middle" fill="#000" stroke="#000" stroke-width="0.28">0.3</text>
<text x="131.72" y="411.9" font-size="11.9" text-anchor="middle" fill="#000" stroke="#000" stroke-width="0.28">0.6</text>
<text x="177.83" y="411.9" font-size="11.9" text-anchor="middle" fill="#000" stroke="#000" stroke-width="0.28">0.9</text>
<text x="223.94" y="411.9" font-size="11.9" text-anchor="middle" fill="#000" stroke="#000" stroke-width="0.28">1.2</text>
<text x="3" y="254.2" font-size="11.9" text-anchor="start" fill="#000" stroke="#000" stroke-width="0.28">c)</text>
<text x="143.1" y="425.6" font-size="11" text-anchor="middle" fill="#000" font-weight="bold" stroke="#000" stroke-width="0.25">E [V]</text>
<text x="11.5" y="322.5" font-size="11.2" text-anchor="middle" fill="#000" transform="rotate(-90 11.5 322.5)" font-weight="bold" stroke="#000" stroke-width="0.25">i [mA cm<tspan font-size="7.5" dy="-3.9">&#8722;2</tspan><tspan dy="3.9">]</tspan></text>
<line x1="318" y1="362.34" x2="507.5" y2="362.34" stroke="#cacaca" stroke-width="1.35"/>
<line x1="318" y1="334.08" x2="507.5" y2="334.08" stroke="#cacaca" stroke-width="1.35"/>
<line x1="318" y1="305.82" x2="507.5" y2="305.82" stroke="#cacaca" stroke-width="1.35"/>
<line x1="318" y1="277.56" x2="507.5" y2="277.56" stroke="#cacaca" stroke-width="1.35"/>
<clipPath id="clipD"><rect x="318" y="249.3" width="189.5" height="141.3"/></clipPath>
<g clip-path="url(#clipD)">
<path d="M352.67 397.69 L352.64 396.09 L352.61 394.51 L352.56 392.93 L352.5 391.37 L352.43 389.81 L352.35 388.26 L352.26 386.71 L352.15 385.17 L352.03 383.64 L351.91 382.11 L351.77 380.58 L351.61 379.05 L351.45 377.53 L351.27 376 L351.08 374.48 L350.87 372.95 L350.65 371.42 L350.42 369.89 L350.18 368.35 L349.92 366.81 L349.64 365.26 L349.36 363.71 L349.06 362.15 L348.75 360.59 L348.44 359.02 L348.12 357.44 L347.81 355.87 L347.51 354.29 L347.22 352.72 L346.94 351.14 L346.68 349.57 L346.44 348 L346.23 346.43 L346.05 344.87 L345.9 343.31 L345.79 341.76 L345.72 340.22 L345.7 338.69 L345.72 337.17 L345.8 335.66 L345.93 334.16 L346.12 332.68 L346.36 331.2 L346.66 329.74 L347 328.29 L347.4 326.84 L347.84 325.41 L348.32 323.99 L348.85 322.58 L349.42 321.17 L350.03 319.77 L350.67 318.39 L351.35 317 L352.07 315.63 L352.81 314.26 L353.59 312.9 L354.39 311.54 L355.22 310.19 L356.08 308.84 L356.96 307.5 L357.85 306.16 L358.77 304.82 L359.7 303.49 L360.65 302.16 L361.62 300.84 L362.6 299.52 L363.6 298.22 L364.62 296.94 L365.66 295.67 L366.71 294.43 L367.79 293.21 L368.88 292.01 L369.99 290.85 L371.13 289.72 L372.28 288.63 L373.46 287.58 L374.65 286.57 L375.87 285.6 L377.11 284.69 L378.38 283.82 L379.67 283.01 L380.98 282.26 L382.31 281.57 L383.67 280.94 L385.06 280.38 L386.47 279.88 L387.91 279.46 L389.37 279.11 L390.85 278.84 L392.35 278.63 L393.86 278.5 L395.39 278.43 L396.92 278.44 L398.45 278.51 L399.99 278.65 L401.52 278.85 L403.05 279.12 L404.56 279.46 L406.07 279.86 L407.55 280.32 L409.02 280.84 L410.46 281.42 L411.88 282.07 L413.26 282.77 L414.61 283.53 L415.93 284.35 L417.2 285.23 L418.43 286.16 L419.63 287.14 L420.78 288.17 L421.9 289.25 L422.98 290.37 L424.03 291.53 L425.04 292.73 L426.01 293.97 L426.95 295.24 L427.86 296.55 L428.73 297.88 L429.58 299.24 L430.39 300.62 L431.17 302.03 L431.93 303.45 L432.65 304.89 L433.35 306.35 L434.02 307.81 L434.66 309.28 L435.28 310.76 L435.87 312.25 L436.44 313.73 L436.99 315.21 L437.52 316.69 L438.02 318.17 L438.5 319.63 L438.96 321.08 L439.41 322.52 L439.83 323.94 L440.24 325.34 L440.63 326.72 L441.01 328.08" fill="none" stroke="#FF0000" stroke-width="1.05" stroke-linejoin="round" stroke-linecap="round"/>
<path d="M346.79 397.69 L346.69 396.12 L346.59 394.57 L346.49 393.01 L346.39 391.47 L346.29 389.92 L346.19 388.38 L346.09 386.85 L345.99 385.31 L345.88 383.78 L345.77 382.25 L345.65 380.73 L345.53 379.2 L345.4 377.68 L345.26 376.16 L345.11 374.63 L344.95 373.11 L344.78 371.59 L344.6 370.06 L344.4 368.54 L344.19 367.01 L343.97 365.49 L343.73 363.95 L343.48 362.42 L343.21 360.89 L342.92 359.35 L342.63 357.81 L342.33 356.27 L342.03 354.72 L341.74 353.18 L341.46 351.64 L341.2 350.1 L340.96 348.56 L340.74 347.02 L340.54 345.48 L340.39 343.94 L340.27 342.41 L340.19 340.88 L340.17 339.36 L340.19 337.84 L340.27 336.33 L340.42 334.82 L340.63 333.31 L340.91 331.82 L341.25 330.33 L341.64 328.85 L342.09 327.38 L342.59 325.91 L343.13 324.46 L343.71 323.02 L344.33 321.59 L344.97 320.17 L345.64 318.76 L346.34 317.37 L347.04 315.99 L347.76 314.62 L348.49 313.27 L349.23 311.94 L349.98 310.62 L350.74 309.31 L351.52 308.01 L352.31 306.73 L353.12 305.47 L353.95 304.21 L354.8 302.97 L355.67 301.74 L356.57 300.52 L357.49 299.31 L358.44 298.11 L359.42 296.92 L360.42 295.74 L361.46 294.58 L362.54 293.42 L363.64 292.27 L364.78 291.13 L365.96 290.01 L367.16 288.92 L368.39 287.85 L369.65 286.81 L370.93 285.8 L372.24 284.84 L373.56 283.91 L374.91 283.04 L376.27 282.22 L377.65 281.46 L379.05 280.76 L380.45 280.13 L381.87 279.57 L383.3 279.08 L384.73 278.67 L386.17 278.35 L387.61 278.12 L389.05 277.98 L390.49 277.94 L391.93 278 L393.37 278.17 L394.8 278.43 L396.22 278.79 L397.64 279.24 L399.04 279.77 L400.43 280.38 L401.81 281.05 L403.16 281.8 L404.5 282.6 L405.82 283.46 L407.11 284.36 L408.38 285.31 L409.63 286.29 L410.84 287.31 L412.03 288.35 L413.18 289.42 L414.31 290.51 L415.41 291.62 L416.47 292.76 L417.51 293.93 L418.52 295.11 L419.49 296.32 L420.44 297.54 L421.36 298.79 L422.25 300.05 L423.11 301.34 L423.94 302.64 L424.74 303.96 L425.51 305.29 L426.25 306.64 L426.97 308.01 L427.65 309.39 L428.3 310.78 L428.93 312.18 L429.52 313.6 L430.09 315.03 L430.63 316.47 L431.14 317.91 L431.62 319.37 L432.07 320.84 L432.49 322.31 L432.89 323.79 L433.25 325.27 L433.59 326.76 L433.9 328.26" fill="none" stroke="#C00000" stroke-width="1.05" stroke-linejoin="round" stroke-linecap="round"/>
<path d="M344.52 397.69 L344.42 396.12 L344.31 394.57 L344.21 393.01 L344.12 391.47 L344.02 389.92 L343.92 388.38 L343.82 386.85 L343.71 385.31 L343.61 383.78 L343.49 382.25 L343.38 380.73 L343.25 379.2 L343.12 377.68 L342.98 376.16 L342.83 374.63 L342.67 373.11 L342.5 371.59 L342.32 370.06 L342.13 368.54 L341.92 367.01 L341.7 365.49 L341.46 363.95 L341.2 362.42 L340.93 360.89 L340.65 359.35 L340.35 357.81 L340.06 356.27 L339.76 354.72 L339.47 353.18 L339.19 351.64 L338.93 350.1 L338.68 348.56 L338.46 347.02 L338.27 345.48 L338.11 343.94 L337.99 342.41 L337.92 340.88 L337.89 339.36 L337.92 337.84 L338 336.33 L338.14 334.82 L338.36 333.31 L338.63 331.82 L338.97 330.33 L339.37 328.85 L339.82 327.38 L340.32 325.91 L340.86 324.46 L341.44 323.02 L342.05 321.59 L342.7 320.17 L343.37 318.76 L344.06 317.37 L344.77 315.99 L345.49 314.62 L346.22 313.27 L346.96 311.94 L347.71 310.62 L348.47 309.31 L349.24 308.01 L350.04 306.73 L350.85 305.47 L351.68 304.21 L352.53 302.97 L353.4 301.74 L354.29 300.52 L355.22 299.31 L356.17 298.11 L357.14 296.92 L358.15 295.74 L359.19 294.58 L360.26 293.42 L361.37 292.27 L362.51 291.13 L363.68 290.01 L364.89 288.92 L366.12 287.85 L367.37 286.81 L368.66 285.8 L369.96 284.84 L371.29 283.91 L372.64 283.04 L374 282.22 L375.38 281.46 L376.77 280.76 L378.18 280.13 L379.6 279.57 L381.02 279.08 L382.45 278.67 L383.89 278.35 L385.33 278.12 L386.78 277.98 L388.22 277.94 L389.66 278 L391.1 278.17 L392.53 278.43 L393.95 278.79 L395.36 279.24 L396.77 279.77 L398.16 280.38 L399.53 281.05 L400.89 281.8 L402.23 282.6 L403.54 283.46 L404.84 284.36 L406.11 285.31 L407.35 286.29 L408.57 287.31 L409.75 288.35 L410.91 289.42 L412.04 290.51 L413.13 291.62 L414.2 292.76 L415.24 293.93 L416.24 295.11 L417.22 296.32 L418.17 297.54 L419.09 298.79 L419.97 300.05 L420.83 301.34 L421.66 302.64 L422.46 303.96 L423.24 305.29 L423.98 306.64 L424.69 308.01 L425.37 309.39 L426.03 310.78 L426.65 312.18 L427.25 313.6 L427.82 315.03 L428.36 316.47 L428.87 317.91 L429.35 319.37 L429.8 320.84 L430.22 322.31 L430.61 323.79 L430.98 325.27 L431.31 326.76 L431.62 328.26" fill="none" stroke="#00B0F0" stroke-width="1.05" stroke-linejoin="round" stroke-linecap="round"/>
<path d="M345.18 397.69 L345.08 396.12 L344.98 394.57 L344.88 393.01 L344.78 391.47 L344.68 389.92 L344.58 388.38 L344.48 386.85 L344.38 385.31 L344.27 383.78 L344.16 382.25 L344.04 380.73 L343.92 379.2 L343.78 377.68 L343.64 376.16 L343.5 374.63 L343.34 373.11 L343.17 371.59 L342.99 370.06 L342.79 368.54 L342.58 367.01 L342.36 365.49 L342.12 363.95 L341.87 362.42 L341.59 360.89 L341.31 359.35 L341.02 357.81 L340.72 356.27 L340.42 354.72 L340.13 353.18 L339.85 351.64 L339.59 350.1 L339.34 348.56 L339.12 347.02 L338.93 345.48 L338.78 343.94 L338.66 342.41 L338.58 340.88 L338.56 339.36 L338.58 337.84 L338.66 336.33 L338.81 334.82 L339.02 333.31 L339.3 331.82 L339.64 330.33 L340.03 328.85 L340.48 327.38 L340.98 325.91 L341.52 324.46 L342.1 323.02 L342.72 321.59 L343.36 320.17 L344.03 318.76 L344.72 317.37 L345.43 315.99 L346.15 314.62 L346.88 313.27 L347.62 311.94 L348.37 310.62 L349.13 309.31 L349.91 308.01 L350.7 306.73 L351.51 305.47 L352.34 304.21 L353.19 302.97 L354.06 301.74 L354.96 300.52 L355.88 299.31 L356.83 298.11 L357.81 296.92 L358.81 295.74 L359.85 294.58 L360.92 293.42 L362.03 292.27 L363.17 291.13 L364.35 290.01 L365.55 288.92 L366.78 287.85 L368.04 286.81 L369.32 285.8 L370.63 284.84 L371.95 283.91 L373.3 283.04 L374.66 282.22 L376.04 281.46 L377.44 280.76 L378.84 280.13 L380.26 279.57 L381.69 279.08 L383.12 278.67 L384.56 278.35 L386 278.12 L387.44 277.98 L388.88 277.94 L390.32 278 L391.76 278.17 L393.19 278.43 L394.61 278.79 L396.03 279.24 L397.43 279.77 L398.82 280.38 L400.19 281.05 L401.55 281.8 L402.89 282.6 L404.21 283.46 L405.5 284.36 L406.77 285.31 L408.02 286.29 L409.23 287.31 L410.42 288.35 L411.57 289.42 L412.7 290.51 L413.8 291.62 L414.86 292.76 L415.9 293.93 L416.91 295.11 L417.88 296.32 L418.83 297.54 L419.75 298.79 L420.64 300.05 L421.5 301.34 L422.33 302.64 L423.13 303.96 L423.9 305.29 L424.64 306.64 L425.35 308.01 L426.04 309.39 L426.69 310.78 L427.32 312.18 L427.91 313.6 L428.48 315.03 L429.02 316.47 L429.53 317.91 L430.01 319.37 L430.46 320.84 L430.88 322.31 L431.28 323.79 L431.64 325.27 L431.98 326.76 L432.29 328.26" fill="none" stroke="#0070C0" stroke-width="1.05" stroke-linejoin="round" stroke-linecap="round"/>
<path d="M362.39 397.65 L362.35 396.06 L362.3 394.48 L362.23 392.91 L362.16 391.34 L362.08 389.77 L361.98 388.21 L361.88 386.65 L361.76 385.1 L361.63 383.55 L361.49 382 L361.34 380.45 L361.17 378.9 L360.99 377.35 L360.8 375.79 L360.59 374.24 L360.37 372.68 L360.14 371.12 L359.89 369.56 L359.62 367.99 L359.34 366.42 L359.05 364.84 L358.74 363.25 L358.44 361.67 L358.13 360.08 L357.82 358.49 L357.51 356.89 L357.21 355.3 L356.93 353.71 L356.66 352.12 L356.41 350.53 L356.18 348.95 L355.98 347.37 L355.8 345.79 L355.66 344.22 L355.56 342.66 L355.49 341.1 L355.47 339.55 L355.49 338.01 L355.57 336.48 L355.7 334.97 L355.88 333.46 L356.11 331.96 L356.39 330.47 L356.72 328.99 L357.09 327.52 L357.51 326.06 L357.97 324.61 L358.48 323.17 L359.02 321.73 L359.6 320.31 L360.22 318.89 L360.88 317.48 L361.56 316.07 L362.29 314.68 L363.04 313.29 L363.82 311.91 L364.63 310.53 L365.46 309.16 L366.32 307.8 L367.21 306.44 L368.11 305.09 L369.04 303.74 L369.98 302.4 L370.95 301.06 L371.93 299.74 L372.94 298.43 L373.96 297.13 L375 295.86 L376.07 294.61 L377.15 293.38 L378.26 292.18 L379.39 291 L380.54 289.86 L381.71 288.76 L382.9 287.69 L384.12 286.67 L385.36 285.69 L386.62 284.75 L387.91 283.86 L389.22 283.03 L390.55 282.25 L391.91 281.52 L393.29 280.86 L394.7 280.26 L396.14 279.72 L397.59 279.25 L399.08 278.85 L400.58 278.52 L402.1 278.25 L403.63 278.05 L405.18 277.92 L406.73 277.86 L408.29 277.86 L409.85 277.93 L411.41 278.06 L412.96 278.26 L414.5 278.52 L416.04 278.84 L417.56 279.23 L419.05 279.68 L420.53 280.19 L421.99 280.76 L423.41 281.4 L424.81 282.09 L426.17 282.85 L427.5 283.66 L428.78 284.53 L430.02 285.46 L431.23 286.44 L432.39 287.48 L433.52 288.56 L434.61 289.69 L435.66 290.87 L436.68 292.08 L437.66 293.33 L438.6 294.62 L439.51 295.94 L440.39 297.29 L441.24 298.67 L442.05 300.08 L442.83 301.51 L443.58 302.95 L444.3 304.42 L444.99 305.9 L445.65 307.39 L446.28 308.9 L446.89 310.4 L447.47 311.92 L448.02 313.43 L448.55 314.95 L449.05 316.46 L449.53 317.96 L449.98 319.46 L450.41 320.95 L450.82 322.42 L451.21 323.87 L451.58 325.31 L451.93 326.72 L452.25 328.11" fill="none" stroke="#33cc44" stroke-width="1.05" stroke-linejoin="round" stroke-linecap="round"/>
</g>
<rect x="318" y="249.3" width="189.5" height="141.3" fill="none" stroke="#3a3a3a" stroke-width="1.35"/>
<line x1="318" y1="362.34" x2="321.5" y2="362.34" stroke="#3a3a3a" stroke-width="1"/>
<line x1="318" y1="334.08" x2="321.5" y2="334.08" stroke="#3a3a3a" stroke-width="1"/>
<line x1="318" y1="305.82" x2="321.5" y2="305.82" stroke="#3a3a3a" stroke-width="1"/>
<line x1="318" y1="277.56" x2="321.5" y2="277.56" stroke="#3a3a3a" stroke-width="1"/>
<line x1="365.38" y1="390.6" x2="365.38" y2="387.1" stroke="#3a3a3a" stroke-width="1"/>
<line x1="412.75" y1="390.6" x2="412.75" y2="387.1" stroke="#3a3a3a" stroke-width="1"/>
<line x1="460.12" y1="390.6" x2="460.12" y2="387.1" stroke="#3a3a3a" stroke-width="1"/>
<text x="307.8" y="394.45" font-size="11.5" text-anchor="end" fill="#000" stroke="#000" stroke-width="0.28">-0.04</text>
<text x="307.8" y="366.19" font-size="11.5" text-anchor="end" fill="#000" stroke="#000" stroke-width="0.28">-0.02</text>
<text x="307.8" y="337.93" font-size="11.5" text-anchor="end" fill="#000" stroke="#000" stroke-width="0.28">0</text>
<text x="307.8" y="309.67" font-size="11.5" text-anchor="end" fill="#000" stroke="#000" stroke-width="0.28">0.02</text>
<text x="307.8" y="281.41" font-size="11.5" text-anchor="end" fill="#000" stroke="#000" stroke-width="0.28">0.04</text>
<text x="307.8" y="253.15" font-size="11.5" text-anchor="end" fill="#000" stroke="#000" stroke-width="0.28">0.06</text>
<text x="318" y="408.6" font-size="11.5" text-anchor="middle" fill="#000" stroke="#000" stroke-width="0.28">0.1</text>
<text x="365.38" y="408.6" font-size="11.5" text-anchor="middle" fill="#000" stroke="#000" stroke-width="0.28">0.15</text>
<text x="412.75" y="408.6" font-size="11.5" text-anchor="middle" fill="#000" stroke="#000" stroke-width="0.28">0.2</text>
<text x="460.12" y="408.6" font-size="11.5" text-anchor="middle" fill="#000" stroke="#000" stroke-width="0.28">0.25</text>
<text x="507.5" y="408.6" font-size="11.5" text-anchor="middle" fill="#000" stroke="#000" stroke-width="0.28">0.3</text>
<text x="263" y="253.3" font-size="11.5" text-anchor="start" fill="#000" stroke="#000" stroke-width="0.28">d)</text>
<text x="412.6" y="423.3" font-size="11.3" text-anchor="middle" fill="#000" font-weight="bold" stroke="#000" stroke-width="0.25">Z' [&#937; cm<tspan font-size="8.2" dy="2.6">elec</tspan><tspan font-size="8.2" dy="-6.6">2</tspan><tspan dy="4.0">]</tspan></text>
<text x="274.2" y="312.7" font-size="11.3" text-anchor="middle" fill="#000" transform="rotate(-90 274.2 312.7)" font-weight="bold" stroke="#000" stroke-width="0.25">-Z'' [&#937; cm<tspan font-size="8.2" dy="2.6">elec</tspan><tspan font-size="8.2" dy="-6.6">2</tspan><tspan dy="4.0">]</tspan></text>
<line x1="574.9" y1="247.6" x2="574.9" y2="388.3" stroke="#5e5e5e" stroke-width="1.4"/>
<line x1="524.8" y1="288.05" x2="725" y2="288.05" stroke="#5e5e5e" stroke-width="1.4"/>
<text x="549.7" y="262.2" font-size="11" text-anchor="middle" fill="#1a1a1a" stroke="#1a1a1a" stroke-width="0.12">Solid</text>
<text x="600" y="262.2" font-size="11" text-anchor="middle" fill="#1a1a1a" stroke="#1a1a1a" stroke-width="0.12">R<tspan font-size="7.3" dy="1.6">s</tspan></text>
<text x="649.3" y="262.2" font-size="11" text-anchor="middle" fill="#1a1a1a" stroke="#1a1a1a" stroke-width="0.12">R<tspan font-size="7.3" dy="1.6">p,&#945;</tspan></text>
<text x="699" y="262.2" font-size="11" text-anchor="middle" fill="#1a1a1a" stroke="#1a1a1a" stroke-width="0.12">C<tspan font-size="7.3" dy="1.6">&#945;</tspan></text>
<text x="549.7" y="281.1" font-size="11" text-anchor="middle" fill="#1a1a1a" stroke="#1a1a1a" stroke-width="0.12">[mg<tspan font-size="7.3" dy="1.6">Ir</tspan><tspan dy="-1.6"> ml</tspan><tspan font-size="7.3" dy="-3.6">&#8722;1</tspan><tspan dy="3.6">]</tspan></text>
<text x="600" y="281.1" font-size="11" text-anchor="middle" fill="#1a1a1a" stroke="#1a1a1a" stroke-width="0.12">[&#937; cm<tspan font-size="7.3" dy="-3.6">2</tspan><tspan dy="3.6">]</tspan></text>
<text x="649.3" y="281.1" font-size="11" text-anchor="middle" fill="#1a1a1a" stroke="#1a1a1a" stroke-width="0.12">[&#937; cm<tspan font-size="7.3" dy="-3.6">2</tspan><tspan dy="3.6">]</tspan></text>
<text x="699" y="281.1" font-size="11" text-anchor="middle" fill="#1a1a1a" stroke="#1a1a1a" stroke-width="0.12">[mF cm<tspan font-size="7.3" dy="-3.6">&#8722;2</tspan><tspan dy="3.6">]</tspan></text>
<text x="549.7" y="302.6" font-size="11" text-anchor="middle" fill="#1a1a1a" stroke="#1a1a1a" stroke-width="0.12">1</text>
<text x="600" y="302.6" font-size="11" text-anchor="middle" fill="#1a1a1a" stroke="#1a1a1a" stroke-width="0.12">0.130</text>
<text x="649.3" y="302.6" font-size="11" text-anchor="middle" fill="#1a1a1a" stroke="#1a1a1a" stroke-width="0.12">0.100</text>
<text x="699" y="302.6" font-size="11" text-anchor="middle" fill="#1a1a1a" stroke="#1a1a1a" stroke-width="0.12">40.1</text>
<text x="549.7" y="322.6" font-size="11" text-anchor="middle" fill="#1a1a1a" stroke="#1a1a1a" stroke-width="0.12">2</text>
<text x="600" y="322.6" font-size="11" text-anchor="middle" fill="#1a1a1a" stroke="#1a1a1a" stroke-width="0.12">0.124</text>
<text x="649.3" y="322.6" font-size="11" text-anchor="middle" fill="#1a1a1a" stroke="#1a1a1a" stroke-width="0.12">0.099</text>
<text x="699" y="322.6" font-size="11" text-anchor="middle" fill="#1a1a1a" stroke="#1a1a1a" stroke-width="0.12">50.8</text>
<text x="549.7" y="342.6" font-size="11" text-anchor="middle" fill="#1a1a1a" stroke="#1a1a1a" stroke-width="0.12">2.75</text>
<text x="600" y="342.6" font-size="11" text-anchor="middle" fill="#1a1a1a" stroke="#1a1a1a" stroke-width="0.12">0.121</text>
<text x="649.3" y="342.6" font-size="11" text-anchor="middle" fill="#1a1a1a" stroke="#1a1a1a" stroke-width="0.12">0.099</text>
<text x="699" y="342.6" font-size="11" text-anchor="middle" fill="#1a1a1a" stroke="#1a1a1a" stroke-width="0.12">51.0</text>
<text x="549.7" y="362.6" font-size="11" text-anchor="middle" fill="#1a1a1a" stroke="#1a1a1a" stroke-width="0.12">3.5</text>
<text x="600" y="362.6" font-size="11" text-anchor="middle" fill="#1a1a1a" stroke="#1a1a1a" stroke-width="0.12">0.123</text>
<text x="649.3" y="362.6" font-size="11" text-anchor="middle" fill="#1a1a1a" stroke="#1a1a1a" stroke-width="0.12">0.099</text>
<text x="699" y="362.6" font-size="11" text-anchor="middle" fill="#1a1a1a" stroke="#1a1a1a" stroke-width="0.12">50.9</text>
<text x="549.7" y="382.6" font-size="11" text-anchor="middle" fill="#1a1a1a" stroke="#1a1a1a" stroke-width="0.12">5</text>
<text x="600" y="382.6" font-size="11" text-anchor="middle" fill="#1a1a1a" stroke="#1a1a1a" stroke-width="0.12">0.140</text>
<text x="649.3" y="382.6" font-size="11" text-anchor="middle" fill="#1a1a1a" stroke="#1a1a1a" stroke-width="0.12">0.101</text>
<text x="699" y="382.6" font-size="11" text-anchor="middle" fill="#1a1a1a" stroke="#1a1a1a" stroke-width="0.12">39.6</text>
<line x1="213.1" y1="622.97" x2="501.6" y2="622.97" stroke="#d4d4d4" stroke-width="1"/>
<line x1="213.1" y1="594.84" x2="501.6" y2="594.84" stroke="#d4d4d4" stroke-width="1"/>
<line x1="213.1" y1="566.71" x2="501.6" y2="566.71" stroke="#d4d4d4" stroke-width="1"/>
<line x1="213.1" y1="538.59" x2="501.6" y2="538.59" stroke="#d4d4d4" stroke-width="1"/>
<line x1="213.1" y1="510.46" x2="501.6" y2="510.46" stroke="#d4d4d4" stroke-width="1"/>
<line x1="213.1" y1="482.33" x2="501.6" y2="482.33" stroke="#d4d4d4" stroke-width="1"/>
<rect x="213.1" y="454.2" width="288.5" height="196.9" fill="none" stroke="#3a3a3a" stroke-width="1.2"/>
<line x1="213.1" y1="622.97" x2="217.6" y2="622.97" stroke="#3a3a3a" stroke-width="1.1"/>
<line x1="213.1" y1="594.84" x2="217.6" y2="594.84" stroke="#3a3a3a" stroke-width="1.1"/>
<line x1="213.1" y1="566.71" x2="217.6" y2="566.71" stroke="#3a3a3a" stroke-width="1.1"/>
<line x1="213.1" y1="538.59" x2="217.6" y2="538.59" stroke="#3a3a3a" stroke-width="1.1"/>
<line x1="213.1" y1="510.46" x2="217.6" y2="510.46" stroke="#3a3a3a" stroke-width="1.1"/>
<line x1="213.1" y1="482.33" x2="217.6" y2="482.33" stroke="#3a3a3a" stroke-width="1.1"/>
<line x1="285.23" y1="651.1" x2="285.23" y2="646.6" stroke="#3a3a3a" stroke-width="1.1"/>
<line x1="357.35" y1="651.1" x2="357.35" y2="646.6" stroke="#3a3a3a" stroke-width="1.1"/>
<line x1="429.48" y1="651.1" x2="429.48" y2="646.6" stroke="#3a3a3a" stroke-width="1.1"/>
<circle cx="213.1" cy="483.62" r="2" fill="#FF0000"/>
<circle cx="285.23" cy="476.65" r="2" fill="#FF0000"/>
<circle cx="339.32" cy="473.83" r="2" fill="#FF0000"/>
<circle cx="393.41" cy="475.18" r="2" fill="#FF0000"/>
<circle cx="501.6" cy="493.64" r="2" fill="#FF0000"/>
<circle cx="213.1" cy="486.77" r="2" fill="#C00000"/>
<circle cx="285.23" cy="478.05" r="2" fill="#C00000"/>
<circle cx="339.32" cy="475.24" r="2" fill="#C00000"/>
<circle cx="393.41" cy="476.37" r="2" fill="#C00000"/>
<circle cx="501.6" cy="497.57" r="2" fill="#C00000"/>
<circle cx="213.1" cy="490.99" r="2" fill="#00B0F0"/>
<circle cx="285.23" cy="480.58" r="2" fill="#00B0F0"/>
<circle cx="339.32" cy="477.38" r="2" fill="#00B0F0"/>
<circle cx="393.41" cy="478.78" r="2" fill="#00B0F0"/>
<circle cx="501.6" cy="501.57" r="2" fill="#00B0F0"/>
<circle cx="213.1" cy="498.31" r="2" fill="#0070C0"/>
<circle cx="285.23" cy="488.18" r="2" fill="#0070C0"/>
<circle cx="339.32" cy="482.55" r="2" fill="#0070C0"/>
<circle cx="393.41" cy="485.48" r="2" fill="#0070C0"/>
<circle cx="501.6" cy="510.06" r="2" fill="#0070C0"/>
<circle cx="213.1" cy="507.81" r="2" fill="#00B050"/>
<circle cx="285.23" cy="497.29" r="2" fill="#00B050"/>
<circle cx="339.32" cy="491.05" r="2" fill="#00B050"/>
<circle cx="393.41" cy="494.03" r="2" fill="#00B050"/>
<circle cx="501.6" cy="520.75" r="2" fill="#00B050"/>
<circle cx="213.1" cy="517.32" r="2" fill="#005C00"/>
<circle cx="285.23" cy="505.9" r="2" fill="#005C00"/>
<circle cx="339.32" cy="499.37" r="2" fill="#005C00"/>
<circle cx="393.41" cy="502.75" r="2" fill="#005C00"/>
<circle cx="501.6" cy="531.44" r="2" fill="#005C00"/>
<circle cx="213.1" cy="527" r="2" fill="#FFC000"/>
<circle cx="285.23" cy="515.13" r="2" fill="#FFC000"/>
<circle cx="339.32" cy="507.87" r="2" fill="#FFC000"/>
<circle cx="393.41" cy="511.64" r="2" fill="#FFC000"/>
<circle cx="501.6" cy="541.57" r="2" fill="#FFC000"/>
<circle cx="213.1" cy="536.5" r="2" fill="#FF9300"/>
<circle cx="285.23" cy="523.45" r="2" fill="#FF9300"/>
<circle cx="339.32" cy="516.2" r="2" fill="#FF9300"/>
<circle cx="393.41" cy="520.75" r="2" fill="#FF9300"/>
<circle cx="501.6" cy="552.26" r="2" fill="#FF9300"/>
<text x="199.4" y="656.3" font-size="15.5" text-anchor="end" fill="#000" stroke="#000" stroke-width="0.28">0</text>
<text x="199.4" y="628.17" font-size="15.5" text-anchor="end" fill="#000" stroke="#000" stroke-width="0.28">0.5</text>
<text x="199.4" y="600.04" font-size="15.5" text-anchor="end" fill="#000" stroke="#000" stroke-width="0.28">1</text>
<text x="199.4" y="571.91" font-size="15.5" text-anchor="end" fill="#000" stroke="#000" stroke-width="0.28">1.5</text>
<text x="199.4" y="543.79" font-size="15.5" text-anchor="end" fill="#000" stroke="#000" stroke-width="0.28">2</text>
<text x="199.4" y="515.66" font-size="15.5" text-anchor="end" fill="#000" stroke="#000" stroke-width="0.28">2.5</text>
<text x="199.4" y="487.53" font-size="15.5" text-anchor="end" fill="#000" stroke="#000" stroke-width="0.28">3</text>
<text x="199.4" y="459.4" font-size="15.5" text-anchor="end" fill="#000" stroke="#000" stroke-width="0.28">3.5</text>
<text x="213.1" y="674.8" font-size="15.5" text-anchor="middle" fill="#000" stroke="#000" stroke-width="0.28">1</text>
<text x="285.23" y="674.8" font-size="15.5" text-anchor="middle" fill="#000" stroke="#000" stroke-width="0.28">2</text>
<text x="357.35" y="674.8" font-size="15.5" text-anchor="middle" fill="#000" stroke="#000" stroke-width="0.28">3</text>
<text x="429.48" y="674.8" font-size="15.5" text-anchor="middle" fill="#000" stroke="#000" stroke-width="0.28">4</text>
<text x="501.6" y="674.8" font-size="15.5" text-anchor="middle" fill="#000" stroke="#000" stroke-width="0.28">5</text>
<text x="157.2" y="459.2" font-size="15.5" text-anchor="start" fill="#000" stroke="#000" stroke-width="0.28">e)</text>
<text x="357.6" y="694.8" font-size="15.9" text-anchor="middle" fill="#000" font-weight="bold" stroke="#000" stroke-width="0.25">Ir Concentration [mg ml<tspan font-size="9.6" dy="-5.4">&#8722;1</tspan><tspan dy="5.4">]</tspan></text>
<text x="169.4" y="552.6" font-size="15.9" text-anchor="middle" fill="#000" transform="rotate(-90 169.4 552.6)" font-weight="bold" stroke="#000" stroke-width="0.25">i<tspan font-size="9.8" dy="-6.0">2 V</tspan><tspan dy="6.0"> [A cm</tspan><tspan font-size="9.6" dy="-5.4">&#8722;2</tspan><tspan dy="5.4">]</tspan></text>
<line x1="519.6" y1="510.4" x2="529.8" y2="510.4" stroke="#FF0000" stroke-width="0.95"/>
<circle cx="524.6" cy="510.4" r="1.9" fill="#FF0000"/>
<text x="530.6" y="515.2" font-size="14.6" text-anchor="start" fill="#000" stroke="#000" stroke-width="0.28">0 k</text>
<line x1="519.6" y1="529.53" x2="529.8" y2="529.53" stroke="#C00000" stroke-width="0.95"/>
<circle cx="524.6" cy="529.53" r="1.9" fill="#C00000"/>
<text x="530.6" y="534.33" font-size="14.6" text-anchor="start" fill="#000" stroke="#000" stroke-width="0.28">4.5 k</text>
<line x1="519.6" y1="548.66" x2="529.8" y2="548.66" stroke="#00B0F0" stroke-width="0.95"/>
<circle cx="524.6" cy="548.66" r="1.9" fill="#00B0F0"/>
<text x="530.6" y="553.46" font-size="14.6" text-anchor="start" fill="#000" stroke="#000" stroke-width="0.28">9 k</text>
<line x1="519.6" y1="567.79" x2="529.8" y2="567.79" stroke="#0070C0" stroke-width="0.95"/>
<circle cx="524.6" cy="567.79" r="1.9" fill="#0070C0"/>
<text x="530.6" y="572.59" font-size="14.6" text-anchor="start" fill="#000" stroke="#000" stroke-width="0.28">13.5 k</text>
<line x1="519.6" y1="586.92" x2="529.8" y2="586.92" stroke="#00B050" stroke-width="0.95"/>
<circle cx="524.6" cy="586.92" r="1.9" fill="#00B050"/>
<text x="530.6" y="591.72" font-size="14.6" text-anchor="start" fill="#000" stroke="#000" stroke-width="0.28">18 k</text>
<line x1="519.6" y1="606.05" x2="529.8" y2="606.05" stroke="#005C00" stroke-width="0.95"/>
<circle cx="524.6" cy="606.05" r="1.9" fill="#005C00"/>
<text x="530.6" y="610.85" font-size="14.6" text-anchor="start" fill="#000" stroke="#000" stroke-width="0.28">22.5 k</text>
<line x1="519.6" y1="625.18" x2="529.8" y2="625.18" stroke="#FFC000" stroke-width="0.95"/>
<circle cx="524.6" cy="625.18" r="1.9" fill="#FFC000"/>
<text x="530.6" y="629.98" font-size="14.6" text-anchor="start" fill="#000" stroke="#000" stroke-width="0.28">27 k</text>
<line x1="519.6" y1="644.31" x2="529.8" y2="644.31" stroke="#FF9300" stroke-width="0.95"/>
<circle cx="524.6" cy="644.31" r="1.9" fill="#FF9300"/>
<text x="530.6" y="649.11" font-size="14.6" text-anchor="start" fill="#000" stroke="#000" stroke-width="0.28">31.5 k</text>
</svg>
</body>
</html>
